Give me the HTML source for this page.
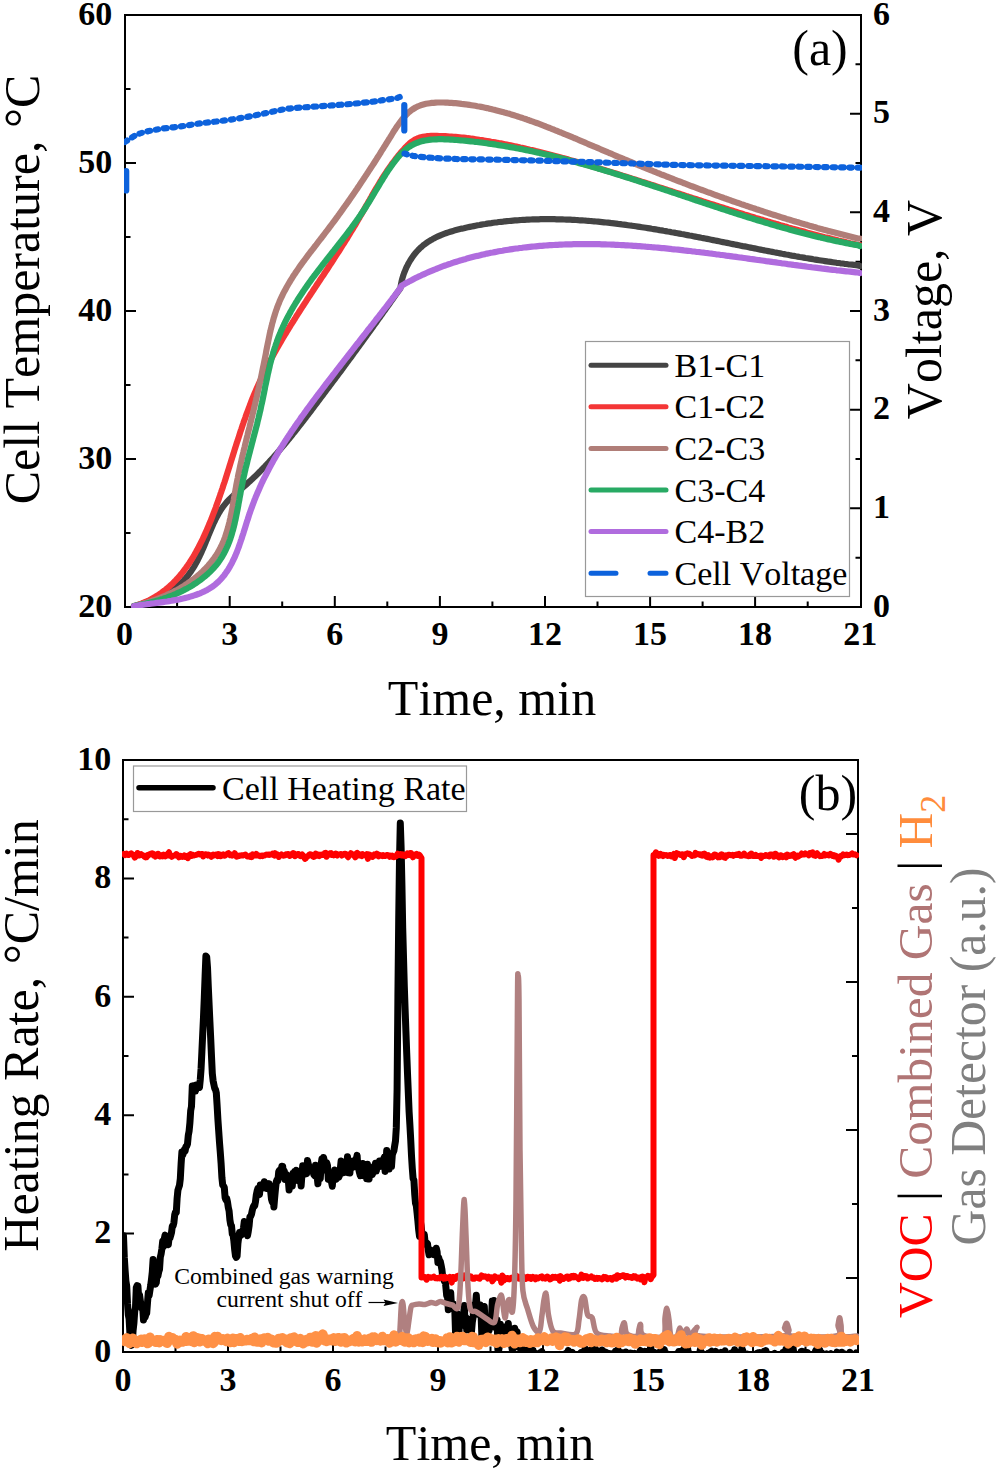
<!DOCTYPE html>
<html><head><meta charset="utf-8"><style>
html,body{margin:0;padding:0;background:#fff;}
svg{display:block;}
</style></head><body>
<svg width="997" height="1470" viewBox="0 0 997 1470">
<rect width="997" height="1470" fill="#fff"/>
<path d="M177.1,607V601.5 M229.7,607V596.0 M282.2,607V601.5 M334.8,607V596.0 M387.3,607V601.5 M439.9,607V596.0 M492.4,607V601.5 M545.0,607V596.0 M597.5,607V601.5 M650.1,607V596.0 M702.6,607V601.5 M755.1,607V596.0 M807.7,607V601.5 M125,533.0H130.5 M125,459.0H136.0 M125,385.0H130.5 M125,311.0H136.0 M125,237.0H130.5 M125,163.0H136.0 M125,89.0H130.5 M861,557.7H855.5 M861,508.3H850.0 M861,459.0H855.5 M861,409.7H850.0 M861,360.3H855.5 M861,311.0H850.0 M861,261.7H855.5 M861,212.3H850.0 M861,163.0H855.5 M861,113.7H850.0 M861,64.3H855.5" stroke="#000" stroke-width="2" fill="none"/>
<rect x="125" y="15" width="736" height="592" fill="none" stroke="#000" stroke-width="2"/>
<defs><clipPath id="ca"><rect x="124" y="14" width="738" height="594"/></clipPath><clipPath id="cb"><rect x="122" y="759" width="737" height="594"/></clipPath></defs>
<g clip-path="url(#ca)">
<g fill="none" stroke-width="6.2" stroke-linecap="round" stroke-linejoin="round">
<path d="M134.0,606.0 L135.9,605.8 L137.7,605.2 L139.6,604.6 L141.4,603.9 L143.3,603.3 L145.2,602.6 L147.1,601.9 L149.0,601.2 L150.9,600.5 L152.8,599.7 L154.7,598.9 L156.6,598.1 L158.4,597.3 L160.3,596.4 L162.1,595.5 L164.0,594.6 L165.8,593.6 L167.6,592.6 L169.3,591.6 L171.0,590.5 L172.7,589.4 L174.4,588.3 L176.0,587.1 L177.6,585.9 L179.1,584.6 L180.6,583.3 L182.1,582.0 L183.5,580.6 L184.8,579.2 L186.1,577.7 L187.4,576.3 L188.6,574.7 L189.7,573.2 L190.9,571.6 L192.0,569.9 L193.0,568.3 L194.1,566.6 L195.1,564.9 L196.0,563.2 L197.0,561.4 L197.9,559.7 L198.8,557.9 L199.7,556.1 L200.5,554.3 L201.4,552.4 L202.2,550.6 L203.0,548.7 L203.8,546.9 L204.6,545.0 L205.4,543.1 L206.1,541.2 L206.9,539.4 L207.7,537.5 L208.4,535.6 L209.2,533.7 L210.0,531.8 L210.8,530.0 L211.6,528.1 L212.4,526.3 L213.2,524.4 L214.0,522.6 L214.9,520.8 L215.7,519.0 L216.6,517.3 L217.6,515.5 L218.5,513.8 L219.5,512.1 L220.5,510.4 L221.6,508.8 L222.7,507.2 L223.9,505.6 L225.1,504.1 L226.3,502.6 L227.6,501.2 L229.0,499.8 L230.3,498.4 L231.8,497.0 L233.2,495.7 L234.7,494.4 L236.2,493.1 L237.7,491.8 L239.2,490.5 L240.8,489.3 L242.3,488.0 L243.8,486.7 L245.3,485.4 L246.8,484.1 L248.2,482.7 L249.7,481.4 L251.2,480.0 L252.6,478.7 L254.1,477.3 L255.5,476.0 L256.9,474.6 L258.3,473.2 L259.7,471.8 L261.1,470.4 L262.5,468.9 L263.9,467.5 L265.3,466.1 L266.6,464.6 L268.0,463.2 L269.3,461.7 L270.7,460.3 L272.0,458.8 L273.4,457.3 L274.7,455.8 L276.0,454.3 L277.3,452.9 L278.6,451.4 L279.9,449.8 L281.2,448.3 L282.5,446.8 L283.8,445.3 L285.0,443.8 L286.3,442.2 L287.6,440.7 L288.8,439.1 L290.1,437.6 L291.4,436.0 L292.6,434.5 L293.8,432.9 L295.1,431.4 L296.3,429.8 L297.6,428.2 L298.8,426.6 L300.0,425.1 L301.3,423.5 L302.5,421.9 L303.7,420.3 L304.9,418.7 L306.1,417.2 L307.3,415.6 L308.6,414.0 L309.8,412.4 L311.0,410.8 L312.2,409.2 L313.4,407.6 L314.6,406.0 L315.8,404.4 L317.0,402.8 L318.2,401.2 L319.4,399.6 L320.6,398.0 L321.8,396.4 L323.0,394.8 L324.2,393.2 L325.4,391.6 L326.6,390.0 L327.8,388.4 L329.0,386.8 L330.2,385.2 L331.4,383.6 L332.6,382.0 L333.8,380.4 L335.0,378.8 L336.2,377.2 L337.4,375.6 L338.6,374.0 L339.8,372.4 L341.0,370.8 L342.2,369.2 L343.4,367.5 L344.5,365.9 L345.7,364.3 L346.9,362.7 L348.1,361.1 L349.3,359.5 L350.5,357.9 L351.7,356.3 L352.8,354.7 L354.0,353.0 L355.2,351.4 L356.4,349.8 L357.5,348.2 L358.7,346.6 L359.9,345.0 L361.1,343.3 L362.3,341.7 L363.4,340.1 L364.6,338.5 L365.8,336.9 L366.9,335.2 L368.1,333.6 L369.3,332.0 L370.4,330.4 L371.6,328.8 L372.8,327.1 L373.9,325.5 L375.1,323.9 L376.3,322.3 L377.4,320.6 L378.6,319.0 L379.8,317.4 L380.9,315.8 L382.1,314.1 L383.2,312.5 L384.4,310.9 L385.6,309.2 L386.7,307.6 L387.9,306.0 L389.0,304.4 L390.2,302.7 L391.3,301.1 L392.5,299.5 L393.6,297.8 L394.8,296.2 L395.9,294.6 L397.1,292.9 L398.2,291.3 L399.4,289.7 L400.5,288.0 L400.7,286.1 L401.0,284.3 L401.4,282.4 L401.8,280.5 L402.3,278.6 L402.9,276.6 L403.5,274.7 L404.2,272.8 L405.0,270.9 L405.8,268.9 L406.6,267.0 L407.6,265.2 L408.5,263.3 L409.6,261.5 L410.7,259.7 L411.8,258.0 L413.0,256.3 L414.2,254.6 L415.5,253.0 L416.8,251.5 L418.2,250.0 L419.6,248.6 L421.0,247.3 L422.5,246.0 L424.0,244.7 L425.6,243.6 L427.2,242.4 L428.8,241.4 L430.5,240.3 L432.2,239.4 L433.9,238.4 L435.6,237.5 L437.4,236.7 L439.2,235.9 L441.0,235.1 L442.8,234.4 L444.7,233.7 L446.5,233.0 L448.4,232.4 L450.3,231.8 L452.2,231.2 L454.2,230.6 L456.1,230.1 L458.0,229.6 L460.0,229.1 L461.9,228.6 L463.9,228.2 L465.8,227.7 L467.8,227.3 L469.8,226.9 L471.7,226.5 L473.7,226.1 L475.6,225.7 L477.6,225.3 L479.6,225.0 L481.5,224.6 L483.5,224.3 L485.4,224.0 L487.4,223.6 L489.4,223.3 L491.3,223.1 L493.3,222.8 L495.3,222.5 L497.2,222.3 L499.2,222.0 L501.2,221.8 L503.1,221.6 L505.1,221.3 L507.1,221.1 L509.1,221.0 L511.0,220.8 L513.0,220.6 L515.0,220.4 L516.9,220.3 L518.9,220.2 L520.9,220.0 L522.9,219.9 L524.8,219.8 L526.8,219.7 L528.8,219.6 L530.8,219.5 L532.7,219.4 L534.7,219.4 L536.7,219.3 L538.7,219.3 L540.6,219.2 L542.6,219.2 L544.6,219.2 L546.6,219.2 L548.6,219.2 L550.5,219.2 L552.5,219.2 L554.5,219.2 L556.5,219.3 L558.5,219.3 L560.4,219.4 L562.4,219.4 L564.4,219.5 L566.4,219.6 L568.4,219.6 L570.3,219.7 L572.3,219.8 L574.3,219.9 L576.3,220.0 L578.3,220.2 L580.2,220.3 L582.2,220.4 L584.2,220.5 L586.2,220.7 L588.2,220.8 L590.2,221.0 L592.2,221.2 L594.1,221.3 L596.1,221.5 L598.1,221.7 L600.1,221.9 L602.1,222.1 L604.1,222.3 L606.0,222.5 L608.0,222.7 L610.0,222.9 L612.0,223.2 L614.0,223.4 L616.0,223.6 L618.0,223.9 L619.9,224.1 L621.9,224.4 L623.9,224.6 L625.9,224.9 L627.9,225.2 L629.9,225.5 L631.8,225.7 L633.8,226.0 L635.8,226.3 L637.8,226.6 L639.8,226.9 L641.8,227.2 L643.8,227.5 L645.7,227.8 L647.7,228.1 L649.7,228.4 L651.7,228.8 L653.7,229.1 L655.7,229.4 L657.7,229.7 L659.6,230.1 L661.6,230.4 L663.6,230.8 L665.6,231.1 L667.6,231.5 L669.6,231.8 L671.5,232.2 L673.5,232.5 L675.5,232.9 L677.5,233.2 L679.5,233.6 L681.5,234.0 L683.4,234.3 L685.4,234.7 L687.4,235.1 L689.4,235.5 L691.4,235.8 L693.3,236.2 L695.3,236.6 L697.3,237.0 L699.3,237.4 L701.3,237.8 L703.2,238.1 L705.2,238.5 L707.2,238.9 L709.2,239.3 L711.2,239.7 L713.1,240.1 L715.1,240.5 L717.1,240.9 L719.1,241.3 L721.0,241.7 L723.0,242.1 L725.0,242.5 L727.0,242.9 L728.9,243.3 L730.9,243.7 L732.9,244.1 L734.9,244.5 L736.8,244.9 L738.8,245.3 L740.8,245.7 L742.7,246.1 L744.7,246.4 L746.7,246.8 L748.7,247.2 L750.6,247.6 L752.6,248.0 L754.6,248.4 L756.5,248.8 L758.5,249.2 L760.5,249.6 L762.4,250.0 L764.4,250.4 L766.4,250.7 L768.3,251.1 L770.3,251.5 L772.3,251.9 L774.2,252.3 L776.2,252.6 L778.1,253.0 L780.1,253.4 L782.1,253.8 L784.0,254.1 L786.0,254.5 L787.9,254.8 L789.9,255.2 L791.8,255.6 L793.8,255.9 L795.8,256.3 L797.7,256.6 L799.7,257.0 L801.6,257.3 L803.6,257.6 L805.5,258.0 L807.5,258.3 L809.4,258.6 L811.4,258.9 L813.3,259.3 L815.3,259.6 L817.2,259.9 L819.2,260.2 L821.1,260.5 L823.1,260.8 L825.0,261.1 L826.9,261.4 L828.9,261.7 L830.8,261.9 L832.8,262.2 L834.7,262.5 L836.6,262.8 L838.6,263.0 L840.5,263.3 L842.4,263.5 L844.4,263.8 L846.3,264.0 L848.2,264.3 L850.2,264.5 L852.1,264.7 L854.0,264.9 L856.0,265.1 L857.9,265.4 L860.0,266.0" stroke="#444444"/>
<path d="M134.0,606.0 L135.7,605.7 L137.8,605.0 L139.8,604.3 L141.7,603.5 L143.7,602.7 L145.6,601.9 L147.4,601.1 L149.3,600.2 L151.1,599.2 L152.8,598.3 L154.6,597.3 L156.3,596.2 L158.0,595.2 L159.6,594.1 L161.2,593.0 L162.8,591.8 L164.4,590.6 L165.9,589.4 L167.4,588.1 L168.9,586.9 L170.3,585.6 L171.8,584.2 L173.2,582.9 L174.5,581.5 L175.9,580.1 L177.2,578.7 L178.5,577.2 L179.8,575.7 L181.0,574.2 L182.3,572.7 L183.5,571.2 L184.6,569.6 L185.8,568.0 L186.9,566.4 L188.1,564.8 L189.2,563.2 L190.3,561.5 L191.3,559.9 L192.4,558.2 L193.4,556.5 L194.4,554.8 L195.4,553.0 L196.4,551.3 L197.3,549.5 L198.3,547.8 L199.2,546.0 L200.1,544.2 L201.0,542.4 L201.9,540.6 L202.8,538.8 L203.6,537.0 L204.5,535.2 L205.3,533.3 L206.1,531.5 L206.9,529.6 L207.7,527.8 L208.5,525.9 L209.3,524.1 L210.0,522.2 L210.8,520.4 L211.6,518.5 L212.3,516.6 L213.0,514.7 L213.7,512.9 L214.5,511.0 L215.2,509.1 L215.9,507.2 L216.5,505.3 L217.2,503.4 L217.9,501.5 L218.6,499.6 L219.2,497.7 L219.9,495.8 L220.5,493.9 L221.2,492.0 L221.8,490.1 L222.5,488.2 L223.1,486.3 L223.7,484.4 L224.4,482.5 L225.0,480.6 L225.6,478.7 L226.2,476.8 L226.8,474.8 L227.4,472.9 L228.0,471.0 L228.6,469.1 L229.2,467.2 L229.8,465.3 L230.4,463.3 L231.0,461.4 L231.6,459.5 L232.2,457.6 L232.8,455.7 L233.4,453.8 L234.0,451.8 L234.6,449.9 L235.2,448.0 L235.8,446.1 L236.4,444.2 L237.0,442.3 L237.7,440.4 L238.3,438.5 L238.9,436.6 L239.5,434.7 L240.1,432.8 L240.7,430.9 L241.4,429.0 L242.0,427.1 L242.6,425.2 L243.3,423.3 L243.9,421.4 L244.6,419.6 L245.3,417.7 L245.9,415.8 L246.6,413.9 L247.3,412.1 L248.0,410.2 L248.7,408.3 L249.4,406.5 L250.1,404.6 L250.8,402.8 L251.5,400.9 L252.2,399.1 L253.0,397.3 L253.7,395.4 L254.5,393.6 L255.3,391.8 L256.1,390.0 L256.8,388.2 L257.7,386.4 L258.5,384.5 L259.3,382.7 L260.1,381.0 L261.0,379.2 L261.8,377.4 L262.7,375.6 L263.5,373.8 L264.4,372.0 L265.3,370.3 L266.2,368.5 L267.1,366.8 L268.0,365.0 L268.9,363.2 L269.8,361.5 L270.7,359.7 L271.7,358.0 L272.6,356.3 L273.6,354.5 L274.5,352.8 L275.5,351.1 L276.5,349.3 L277.4,347.6 L278.4,345.9 L279.4,344.2 L280.4,342.5 L281.4,340.7 L282.4,339.0 L283.4,337.3 L284.4,335.6 L285.5,333.9 L286.5,332.2 L287.5,330.5 L288.6,328.8 L289.6,327.1 L290.6,325.4 L291.7,323.7 L292.8,322.1 L293.8,320.4 L294.9,318.7 L295.9,317.0 L297.0,315.3 L298.1,313.6 L299.1,312.0 L300.2,310.3 L301.3,308.6 L302.4,306.9 L303.5,305.2 L304.6,303.6 L305.7,301.9 L306.7,300.2 L307.8,298.6 L308.9,296.9 L310.0,295.2 L311.1,293.5 L312.2,291.9 L313.3,290.2 L314.4,288.5 L315.5,286.9 L316.6,285.2 L317.7,283.5 L318.8,281.9 L319.9,280.2 L321.0,278.5 L322.2,276.8 L323.3,275.2 L324.4,273.5 L325.5,271.8 L326.6,270.2 L327.7,268.5 L328.8,266.8 L329.9,265.1 L331.0,263.5 L332.1,261.8 L333.2,260.1 L334.2,258.4 L335.3,256.7 L336.4,255.1 L337.5,253.4 L338.6,251.7 L339.7,250.0 L340.8,248.3 L341.8,246.6 L342.9,244.9 L344.0,243.2 L345.0,241.6 L346.1,239.9 L347.2,238.2 L348.2,236.5 L349.3,234.7 L350.3,233.0 L351.3,231.3 L352.4,229.6 L353.4,227.9 L354.4,226.2 L355.5,224.5 L356.5,222.7 L357.5,221.0 L358.5,219.3 L359.5,217.6 L360.5,215.8 L361.5,214.1 L362.5,212.4 L363.5,210.6 L364.5,208.9 L365.4,207.1 L366.4,205.4 L367.4,203.7 L368.4,201.9 L369.4,200.2 L370.4,198.4 L371.4,196.7 L372.3,195.0 L373.3,193.2 L374.3,191.5 L375.3,189.8 L376.3,188.1 L377.4,186.4 L378.4,184.7 L379.4,183.0 L380.4,181.3 L381.5,179.6 L382.5,177.9 L383.6,176.2 L384.7,174.6 L385.8,172.9 L386.8,171.3 L388.0,169.6 L389.1,168.0 L390.2,166.4 L391.4,164.7 L392.5,163.1 L393.7,161.6 L394.9,160.0 L396.1,158.4 L397.3,156.9 L398.6,155.3 L399.9,153.8 L401.1,152.3 L402.4,150.8 L403.8,149.3 L405.1,147.8 L406.5,146.4 L407.9,145.0 L409.3,143.7 L410.8,142.4 L412.4,141.3 L414.0,140.2 L415.6,139.3 L417.4,138.5 L419.2,137.8 L421.0,137.2 L422.9,136.8 L424.9,136.5 L426.8,136.2 L428.9,136.0 L430.9,135.9 L433.0,135.9 L435.0,135.9 L437.1,135.9 L439.2,136.0 L441.3,136.0 L443.3,136.1 L445.4,136.2 L447.4,136.3 L449.5,136.5 L451.5,136.6 L453.5,136.8 L455.6,136.9 L457.6,137.1 L459.6,137.3 L461.6,137.5 L463.6,137.7 L465.6,137.9 L467.6,138.2 L469.5,138.4 L471.5,138.7 L473.5,138.9 L475.5,139.2 L477.4,139.5 L479.4,139.8 L481.4,140.0 L483.3,140.4 L485.3,140.7 L487.2,141.0 L489.2,141.3 L491.1,141.7 L493.1,142.0 L495.0,142.3 L496.9,142.7 L498.9,143.1 L500.8,143.4 L502.8,143.8 L504.7,144.2 L506.7,144.6 L508.6,145.0 L510.5,145.4 L512.5,145.8 L514.4,146.2 L516.4,146.6 L518.3,147.0 L520.2,147.5 L522.2,147.9 L524.1,148.3 L526.1,148.8 L528.0,149.2 L529.9,149.7 L531.9,150.1 L533.8,150.6 L535.8,151.1 L537.7,151.5 L539.6,152.0 L541.6,152.5 L543.5,153.0 L545.5,153.5 L547.4,154.0 L549.3,154.5 L551.3,155.0 L553.2,155.5 L555.1,156.0 L557.1,156.5 L559.0,157.0 L560.9,157.5 L562.9,158.1 L564.8,158.6 L566.7,159.1 L568.6,159.6 L570.6,160.2 L572.5,160.7 L574.4,161.3 L576.4,161.8 L578.3,162.4 L580.2,162.9 L582.1,163.5 L584.1,164.0 L586.0,164.6 L587.9,165.1 L589.8,165.7 L591.8,166.3 L593.7,166.8 L595.6,167.4 L597.5,168.0 L599.4,168.6 L601.4,169.1 L603.3,169.7 L605.2,170.3 L607.1,170.9 L609.0,171.5 L610.9,172.0 L612.9,172.6 L614.8,173.2 L616.7,173.8 L618.6,174.4 L620.5,175.0 L622.4,175.6 L624.3,176.2 L626.2,176.8 L628.1,177.4 L630.1,178.0 L632.0,178.6 L633.9,179.2 L635.8,179.8 L637.7,180.4 L639.6,181.0 L641.5,181.6 L643.4,182.2 L645.3,182.8 L647.2,183.4 L649.1,184.0 L651.0,184.6 L652.9,185.2 L654.8,185.8 L656.7,186.5 L658.6,187.1 L660.5,187.7 L662.4,188.3 L664.3,188.9 L666.2,189.5 L668.1,190.1 L670.0,190.7 L671.9,191.3 L673.8,192.0 L675.7,192.6 L677.6,193.2 L679.5,193.8 L681.4,194.4 L683.3,195.0 L685.2,195.6 L687.1,196.3 L689.0,196.9 L690.9,197.5 L692.8,198.1 L694.7,198.7 L696.6,199.3 L698.5,199.9 L700.4,200.5 L702.3,201.1 L704.2,201.8 L706.1,202.4 L708.0,203.0 L709.9,203.6 L711.9,204.2 L713.8,204.8 L715.7,205.4 L717.6,206.0 L719.5,206.6 L721.4,207.2 L723.3,207.8 L725.2,208.4 L727.1,209.0 L729.0,209.6 L730.9,210.2 L732.8,210.8 L734.7,211.4 L736.6,212.0 L738.5,212.6 L740.4,213.2 L742.3,213.8 L744.2,214.4 L746.1,214.9 L748.0,215.5 L749.9,216.1 L751.8,216.7 L753.7,217.3 L755.6,217.9 L757.6,218.4 L759.5,219.0 L761.4,219.6 L763.3,220.1 L765.2,220.7 L767.1,221.3 L769.0,221.8 L770.9,222.4 L772.9,223.0 L774.8,223.5 L776.7,224.1 L778.6,224.6 L780.5,225.2 L782.4,225.7 L784.4,226.3 L786.3,226.8 L788.2,227.4 L790.1,227.9 L792.0,228.5 L794.0,229.0 L795.9,229.5 L797.8,230.0 L799.7,230.6 L801.7,231.1 L803.6,231.6 L805.5,232.1 L807.4,232.7 L809.4,233.2 L811.3,233.7 L813.2,234.2 L815.2,234.7 L817.1,235.2 L819.0,235.7 L821.0,236.2 L822.9,236.7 L824.8,237.2 L826.8,237.6 L828.7,238.1 L830.7,238.6 L832.6,239.1 L834.6,239.5 L836.5,240.0 L838.4,240.5 L840.4,240.9 L842.3,241.4 L844.3,241.8 L846.2,242.3 L848.2,242.7 L850.1,243.2 L852.1,243.6 L854.1,244.0 L856.0,244.5 L858.0,244.9 L860.0,245.0" stroke="#F43636"/>
<path d="M134.0,606.0 L135.9,605.5 L137.8,605.0 L139.7,604.6 L141.6,604.1 L143.5,603.5 L145.4,603.0 L147.4,602.4 L149.3,601.8 L151.2,601.2 L153.1,600.5 L155.0,599.8 L156.9,599.1 L158.8,598.4 L160.6,597.7 L162.5,596.9 L164.4,596.1 L166.2,595.3 L168.1,594.4 L169.9,593.6 L171.7,592.7 L173.5,591.8 L175.3,590.8 L177.1,589.9 L178.9,588.9 L180.6,587.9 L182.3,586.8 L184.0,585.8 L185.7,584.7 L187.4,583.6 L189.1,582.4 L190.7,581.3 L192.3,580.1 L193.9,578.9 L195.4,577.7 L197.0,576.4 L198.5,575.1 L200.0,573.8 L201.4,572.5 L202.8,571.2 L204.2,569.8 L205.6,568.4 L207.0,567.0 L208.3,565.5 L209.5,564.0 L210.8,562.5 L212.0,561.0 L213.2,559.5 L214.3,557.9 L215.4,556.3 L216.5,554.7 L217.5,553.1 L218.5,551.4 L219.4,549.7 L220.3,548.0 L221.2,546.2 L222.0,544.5 L222.8,542.7 L223.6,540.9 L224.3,539.1 L225.0,537.2 L225.6,535.4 L226.2,533.5 L226.8,531.6 L227.4,529.7 L228.0,527.7 L228.5,525.8 L229.0,523.9 L229.5,521.9 L229.9,519.9 L230.4,517.9 L230.8,516.0 L231.2,514.0 L231.6,512.0 L232.0,509.9 L232.4,507.9 L232.7,505.9 L233.1,503.9 L233.4,501.9 L233.8,499.8 L234.1,497.8 L234.5,495.8 L234.8,493.8 L235.2,491.7 L235.5,489.7 L235.9,487.7 L236.2,485.7 L236.6,483.7 L237.0,481.7 L237.4,479.7 L237.8,477.8 L238.1,475.8 L238.5,473.8 L239.0,471.9 L239.4,469.9 L239.8,467.9 L240.2,466.0 L240.6,464.0 L241.1,462.1 L241.5,460.2 L241.9,458.2 L242.4,456.3 L242.8,454.4 L243.3,452.4 L243.7,450.5 L244.2,448.6 L244.7,446.7 L245.1,444.8 L245.6,442.8 L246.1,440.9 L246.5,439.0 L247.0,437.1 L247.5,435.2 L247.9,433.3 L248.4,431.4 L248.9,429.4 L249.4,427.5 L249.8,425.6 L250.3,423.7 L250.8,421.8 L251.2,419.9 L251.7,417.9 L252.2,416.0 L252.6,414.1 L253.1,412.2 L253.6,410.2 L254.0,408.3 L254.5,406.4 L255.0,404.4 L255.4,402.5 L255.9,400.5 L256.3,398.6 L256.8,396.7 L257.2,394.7 L257.6,392.8 L258.1,390.8 L258.5,388.9 L259.0,386.9 L259.4,384.9 L259.8,383.0 L260.3,381.0 L260.7,379.1 L261.1,377.1 L261.5,375.1 L261.9,373.2 L262.3,371.2 L262.7,369.2 L263.1,367.2 L263.5,365.3 L263.9,363.3 L264.3,361.3 L264.7,359.3 L265.1,357.3 L265.5,355.4 L265.9,353.4 L266.2,351.4 L266.6,349.4 L267.0,347.4 L267.4,345.4 L267.8,343.5 L268.2,341.5 L268.6,339.5 L269.0,337.5 L269.4,335.6 L269.8,333.6 L270.3,331.6 L270.7,329.7 L271.2,327.7 L271.7,325.8 L272.1,323.9 L272.7,321.9 L273.2,320.0 L273.7,318.1 L274.3,316.2 L274.9,314.3 L275.5,312.4 L276.1,310.5 L276.8,308.7 L277.4,306.8 L278.1,305.0 L278.9,303.2 L279.6,301.3 L280.4,299.5 L281.2,297.7 L282.1,296.0 L282.9,294.2 L283.8,292.4 L284.7,290.7 L285.7,288.9 L286.6,287.2 L287.6,285.5 L288.6,283.8 L289.6,282.1 L290.6,280.4 L291.7,278.7 L292.7,277.0 L293.8,275.3 L294.9,273.7 L296.0,272.0 L297.1,270.4 L298.3,268.7 L299.4,267.1 L300.6,265.4 L301.7,263.8 L302.9,262.2 L304.1,260.6 L305.3,259.0 L306.5,257.4 L307.7,255.7 L308.9,254.1 L310.1,252.5 L311.3,251.0 L312.6,249.4 L313.8,247.8 L315.0,246.2 L316.3,244.6 L317.5,243.0 L318.7,241.4 L319.9,239.9 L321.2,238.3 L322.4,236.7 L323.6,235.1 L324.8,233.5 L326.0,231.9 L327.2,230.4 L328.4,228.8 L329.6,227.2 L330.8,225.6 L332.0,224.0 L333.2,222.4 L334.4,220.8 L335.5,219.3 L336.7,217.7 L337.9,216.1 L339.0,214.5 L340.2,212.9 L341.3,211.3 L342.5,209.7 L343.6,208.1 L344.7,206.5 L345.9,204.9 L347.0,203.3 L348.2,201.7 L349.3,200.0 L350.4,198.4 L351.5,196.8 L352.7,195.2 L353.8,193.6 L354.9,191.9 L356.0,190.3 L357.1,188.7 L358.2,187.0 L359.3,185.4 L360.4,183.7 L361.5,182.1 L362.6,180.4 L363.7,178.8 L364.8,177.1 L365.9,175.4 L367.0,173.8 L368.1,172.1 L369.2,170.4 L370.3,168.7 L371.4,167.1 L372.5,165.4 L373.6,163.7 L374.7,162.0 L375.8,160.3 L376.9,158.5 L378.0,156.8 L379.1,155.1 L380.2,153.4 L381.2,151.6 L382.3,149.9 L383.4,148.2 L384.5,146.4 L385.6,144.7 L386.7,142.9 L387.8,141.1 L388.9,139.3 L390.0,137.6 L391.1,135.8 L392.2,134.0 L393.3,132.2 L394.4,130.4 L395.6,128.7 L396.7,126.9 L397.9,125.2 L399.1,123.5 L400.3,121.9 L401.5,120.3 L402.7,118.7 L404.0,117.2 L405.3,115.7 L406.7,114.3 L408.0,113.0 L409.5,111.7 L410.9,110.6 L412.4,109.5 L414.0,108.5 L415.6,107.5 L417.2,106.7 L418.9,106.0 L420.6,105.3 L422.4,104.8 L424.2,104.3 L426.0,103.8 L427.9,103.5 L429.8,103.2 L431.7,102.9 L433.6,102.8 L435.6,102.6 L437.6,102.5 L439.5,102.5 L441.5,102.5 L443.5,102.5 L445.5,102.6 L447.6,102.7 L449.6,102.8 L451.6,102.9 L453.6,103.1 L455.6,103.2 L457.6,103.4 L459.6,103.6 L461.5,103.9 L463.5,104.1 L465.5,104.3 L467.5,104.6 L469.5,104.9 L471.4,105.2 L473.4,105.5 L475.3,105.8 L477.3,106.2 L479.3,106.5 L481.2,106.9 L483.2,107.3 L485.1,107.7 L487.1,108.1 L489.0,108.6 L490.9,109.0 L492.9,109.5 L494.8,109.9 L496.7,110.4 L498.7,110.9 L500.6,111.4 L502.5,111.9 L504.4,112.5 L506.3,113.0 L508.3,113.6 L510.2,114.1 L512.1,114.7 L514.0,115.3 L515.9,115.9 L517.8,116.5 L519.7,117.1 L521.6,117.7 L523.5,118.4 L525.4,119.0 L527.3,119.7 L529.1,120.3 L531.0,121.0 L532.9,121.6 L534.8,122.3 L536.7,123.0 L538.6,123.7 L540.4,124.4 L542.3,125.1 L544.2,125.8 L546.1,126.6 L547.9,127.3 L549.8,128.0 L551.7,128.8 L553.6,129.5 L555.4,130.3 L557.3,131.0 L559.1,131.8 L561.0,132.5 L562.9,133.3 L564.7,134.1 L566.6,134.8 L568.5,135.6 L570.3,136.4 L572.2,137.2 L574.0,138.0 L575.9,138.7 L577.7,139.5 L579.6,140.3 L581.4,141.1 L583.3,141.9 L585.1,142.7 L587.0,143.5 L588.8,144.3 L590.7,145.1 L592.6,145.9 L594.4,146.7 L596.3,147.4 L598.1,148.2 L600.0,149.0 L601.8,149.8 L603.7,150.6 L605.5,151.4 L607.4,152.2 L609.2,153.0 L611.1,153.7 L612.9,154.5 L614.8,155.3 L616.6,156.1 L618.4,156.9 L620.3,157.6 L622.1,158.4 L624.0,159.2 L625.8,159.9 L627.7,160.7 L629.5,161.5 L631.4,162.2 L633.3,163.0 L635.1,163.8 L637.0,164.5 L638.8,165.3 L640.7,166.0 L642.5,166.8 L644.4,167.6 L646.2,168.3 L648.1,169.1 L649.9,169.8 L651.8,170.5 L653.6,171.3 L655.5,172.0 L657.3,172.8 L659.2,173.5 L661.0,174.3 L662.9,175.0 L664.7,175.7 L666.6,176.5 L668.4,177.2 L670.3,177.9 L672.2,178.6 L674.0,179.4 L675.9,180.1 L677.7,180.8 L679.6,181.5 L681.4,182.2 L683.3,183.0 L685.2,183.7 L687.0,184.4 L688.9,185.1 L690.7,185.8 L692.6,186.5 L694.5,187.2 L696.3,187.9 L698.2,188.6 L700.1,189.3 L701.9,190.0 L703.8,190.7 L705.7,191.4 L707.5,192.1 L709.4,192.7 L711.3,193.4 L713.1,194.1 L715.0,194.8 L716.9,195.5 L718.7,196.1 L720.6,196.8 L722.5,197.5 L724.3,198.2 L726.2,198.8 L728.1,199.5 L730.0,200.1 L731.8,200.8 L733.7,201.5 L735.6,202.1 L737.5,202.8 L739.3,203.4 L741.2,204.1 L743.1,204.7 L745.0,205.4 L746.9,206.0 L748.8,206.6 L750.6,207.3 L752.5,207.9 L754.4,208.5 L756.3,209.2 L758.2,209.8 L760.1,210.4 L762.0,211.0 L763.8,211.6 L765.7,212.3 L767.6,212.9 L769.5,213.5 L771.4,214.1 L773.3,214.7 L775.2,215.3 L777.1,215.9 L779.0,216.5 L780.9,217.1 L782.8,217.7 L784.7,218.3 L786.6,218.9 L788.5,219.4 L790.4,220.0 L792.3,220.6 L794.2,221.2 L796.2,221.8 L798.1,222.3 L800.0,222.9 L801.9,223.5 L803.8,224.0 L805.7,224.6 L807.6,225.1 L809.6,225.7 L811.5,226.2 L813.4,226.8 L815.3,227.3 L817.2,227.9 L819.2,228.4 L821.1,228.9 L823.0,229.5 L825.0,230.0 L826.9,230.5 L828.8,231.1 L830.7,231.6 L832.7,232.1 L834.6,232.6 L836.6,233.1 L838.5,233.6 L840.4,234.1 L842.4,234.6 L844.3,235.1 L846.3,235.6 L848.2,236.1 L850.2,236.6 L852.1,237.1 L854.1,237.6 L856.0,238.1 L858.0,238.6 L860.0,238.5" stroke="#B07E78"/>
<path d="M134.0,606.0 L136.0,605.5 L137.9,605.2 L139.8,604.8 L141.7,604.5 L143.6,604.1 L145.5,603.7 L147.4,603.2 L149.3,602.8 L151.3,602.3 L153.2,601.8 L155.1,601.3 L157.1,600.7 L159.0,600.1 L160.9,599.5 L162.9,598.9 L164.8,598.2 L166.7,597.6 L168.6,596.8 L170.6,596.1 L172.5,595.4 L174.4,594.6 L176.2,593.8 L178.1,592.9 L180.0,592.1 L181.8,591.2 L183.6,590.3 L185.4,589.3 L187.2,588.4 L189.0,587.4 L190.8,586.3 L192.5,585.3 L194.2,584.2 L195.9,583.1 L197.5,582.0 L199.2,580.8 L200.8,579.7 L202.4,578.4 L203.9,577.2 L205.4,576.0 L206.9,574.7 L208.4,573.3 L209.8,572.0 L211.2,570.6 L212.5,569.2 L213.9,567.8 L215.1,566.3 L216.4,564.9 L217.6,563.3 L218.7,561.8 L219.8,560.2 L220.9,558.6 L221.9,557.0 L222.9,555.4 L223.8,553.7 L224.7,552.0 L225.6,550.3 L226.4,548.5 L227.2,546.7 L228.0,544.9 L228.7,543.1 L229.4,541.3 L230.1,539.5 L230.7,537.6 L231.3,535.7 L231.9,533.8 L232.4,531.9 L233.0,530.0 L233.5,528.0 L234.0,526.1 L234.5,524.1 L234.9,522.1 L235.4,520.1 L235.8,518.1 L236.2,516.1 L236.6,514.1 L237.0,512.1 L237.4,510.1 L237.8,508.1 L238.2,506.0 L238.5,504.0 L238.9,502.0 L239.3,500.0 L239.6,497.9 L240.0,495.9 L240.4,493.9 L240.7,491.8 L241.1,489.8 L241.5,487.8 L241.9,485.8 L242.3,483.8 L242.7,481.8 L243.1,479.8 L243.5,477.8 L243.9,475.9 L244.4,473.9 L244.8,471.9 L245.3,470.0 L245.7,468.0 L246.2,466.1 L246.7,464.2 L247.2,462.2 L247.6,460.3 L248.1,458.4 L248.6,456.4 L249.1,454.5 L249.6,452.6 L250.1,450.7 L250.6,448.8 L251.1,446.9 L251.6,444.9 L252.1,443.0 L252.6,441.1 L253.1,439.2 L253.6,437.3 L254.1,435.4 L254.6,433.5 L255.1,431.6 L255.6,429.7 L256.1,427.8 L256.6,425.9 L257.1,424.0 L257.5,422.1 L258.0,420.1 L258.5,418.2 L258.9,416.3 L259.4,414.4 L259.8,412.4 L260.3,410.5 L260.7,408.6 L261.1,406.6 L261.5,404.7 L262.0,402.7 L262.4,400.8 L262.8,398.8 L263.2,396.9 L263.6,394.9 L264.0,393.0 L264.4,391.0 L264.8,389.1 L265.1,387.1 L265.5,385.1 L266.0,383.2 L266.4,381.2 L266.8,379.3 L267.2,377.3 L267.6,375.3 L268.0,373.4 L268.5,371.4 L268.9,369.5 L269.4,367.5 L269.8,365.6 L270.3,363.6 L270.8,361.7 L271.3,359.7 L271.8,357.8 L272.4,355.9 L272.9,354.0 L273.5,352.0 L274.0,350.1 L274.6,348.2 L275.3,346.3 L275.9,344.4 L276.6,342.5 L277.2,340.6 L277.9,338.8 L278.6,336.9 L279.4,335.0 L280.2,333.2 L280.9,331.3 L281.7,329.5 L282.6,327.6 L283.4,325.8 L284.3,324.0 L285.1,322.2 L286.0,320.4 L286.9,318.6 L287.9,316.8 L288.8,315.0 L289.8,313.3 L290.7,311.5 L291.7,309.8 L292.7,308.0 L293.7,306.3 L294.8,304.5 L295.8,302.8 L296.9,301.1 L297.9,299.4 L299.0,297.7 L300.1,296.1 L301.2,294.4 L302.3,292.7 L303.4,291.1 L304.5,289.4 L305.6,287.8 L306.8,286.2 L307.9,284.5 L309.0,282.9 L310.2,281.3 L311.4,279.7 L312.5,278.1 L313.7,276.5 L314.9,275.0 L316.1,273.4 L317.3,271.8 L318.5,270.2 L319.7,268.7 L320.9,267.1 L322.1,265.5 L323.3,264.0 L324.5,262.4 L325.7,260.9 L326.9,259.3 L328.2,257.8 L329.4,256.2 L330.6,254.7 L331.8,253.1 L333.1,251.6 L334.3,250.0 L335.5,248.5 L336.7,246.9 L338.0,245.3 L339.2,243.8 L340.4,242.2 L341.6,240.7 L342.8,239.1 L344.0,237.5 L345.3,236.0 L346.5,234.4 L347.7,232.8 L348.9,231.2 L350.1,229.6 L351.3,228.0 L352.4,226.4 L353.6,224.8 L354.8,223.2 L356.0,221.6 L357.1,219.9 L358.3,218.3 L359.4,216.6 L360.6,215.0 L361.7,213.3 L362.8,211.6 L364.0,209.9 L365.1,208.2 L366.2,206.5 L367.2,204.8 L368.3,203.1 L369.4,201.3 L370.5,199.6 L371.5,197.8 L372.6,196.1 L373.6,194.3 L374.7,192.5 L375.7,190.8 L376.8,189.0 L377.8,187.2 L378.9,185.5 L379.9,183.7 L381.0,181.9 L382.1,180.2 L383.1,178.4 L384.2,176.7 L385.3,175.0 L386.4,173.2 L387.5,171.5 L388.7,169.8 L389.8,168.2 L391.0,166.5 L392.1,164.9 L393.3,163.2 L394.6,161.6 L395.8,160.0 L397.0,158.5 L398.3,156.9 L399.6,155.4 L401.0,154.0 L402.3,152.6 L403.7,151.2 L405.1,149.9 L406.6,148.7 L408.1,147.6 L409.6,146.5 L411.2,145.5 L412.8,144.7 L414.5,143.8 L416.2,143.1 L417.9,142.5 L419.6,141.9 L421.4,141.3 L423.2,140.9 L425.0,140.5 L426.9,140.2 L428.8,139.9 L430.7,139.7 L432.6,139.5 L434.6,139.4 L436.5,139.3 L438.5,139.2 L440.5,139.2 L442.5,139.2 L444.5,139.3 L446.5,139.3 L448.5,139.4 L450.5,139.6 L452.5,139.7 L454.6,139.8 L456.6,140.0 L458.6,140.2 L460.6,140.3 L462.6,140.5 L464.7,140.7 L466.7,140.9 L468.7,141.1 L470.7,141.3 L472.7,141.5 L474.7,141.8 L476.7,142.0 L478.7,142.2 L480.7,142.5 L482.7,142.7 L484.7,143.0 L486.7,143.3 L488.7,143.6 L490.7,143.8 L492.6,144.1 L494.6,144.4 L496.6,144.7 L498.6,145.1 L500.6,145.4 L502.6,145.7 L504.5,146.0 L506.5,146.4 L508.5,146.7 L510.4,147.1 L512.4,147.4 L514.4,147.8 L516.4,148.2 L518.3,148.5 L520.3,148.9 L522.2,149.3 L524.2,149.7 L526.2,150.1 L528.1,150.5 L530.1,150.9 L532.0,151.3 L534.0,151.8 L535.9,152.2 L537.9,152.6 L539.8,153.1 L541.8,153.5 L543.7,154.0 L545.7,154.4 L547.6,154.9 L549.5,155.3 L551.5,155.8 L553.4,156.3 L555.4,156.8 L557.3,157.2 L559.2,157.7 L561.2,158.2 L563.1,158.7 L565.0,159.2 L567.0,159.7 L568.9,160.2 L570.8,160.8 L572.7,161.3 L574.7,161.8 L576.6,162.3 L578.5,162.9 L580.4,163.4 L582.4,163.9 L584.3,164.5 L586.2,165.0 L588.1,165.6 L590.0,166.1 L592.0,166.7 L593.9,167.2 L595.8,167.8 L597.7,168.4 L599.6,168.9 L601.5,169.5 L603.4,170.1 L605.4,170.7 L607.3,171.2 L609.2,171.8 L611.1,172.4 L613.0,173.0 L614.9,173.6 L616.8,174.2 L618.7,174.8 L620.6,175.4 L622.5,176.0 L624.4,176.6 L626.3,177.2 L628.2,177.8 L630.1,178.4 L632.0,179.0 L633.9,179.6 L635.8,180.2 L637.7,180.9 L639.6,181.5 L641.5,182.1 L643.4,182.7 L645.3,183.3 L647.2,184.0 L649.1,184.6 L651.0,185.2 L652.9,185.8 L654.8,186.5 L656.7,187.1 L658.6,187.7 L660.5,188.4 L662.4,189.0 L664.3,189.6 L666.2,190.3 L668.1,190.9 L670.0,191.5 L671.9,192.2 L673.8,192.8 L675.7,193.4 L677.6,194.1 L679.5,194.7 L681.4,195.4 L683.3,196.0 L685.2,196.6 L687.1,197.3 L689.0,197.9 L690.9,198.5 L692.8,199.2 L694.6,199.8 L696.5,200.5 L698.4,201.1 L700.3,201.7 L702.2,202.4 L704.1,203.0 L706.0,203.6 L707.9,204.3 L709.8,204.9 L711.7,205.5 L713.6,206.1 L715.5,206.8 L717.4,207.4 L719.3,208.0 L721.2,208.7 L723.1,209.3 L725.0,209.9 L726.9,210.5 L728.8,211.1 L730.7,211.8 L732.6,212.4 L734.5,213.0 L736.4,213.6 L738.3,214.2 L740.2,214.8 L742.1,215.4 L744.0,216.0 L745.9,216.6 L747.8,217.2 L749.7,217.8 L751.7,218.4 L753.6,219.0 L755.5,219.6 L757.4,220.2 L759.3,220.8 L761.2,221.3 L763.1,221.9 L765.0,222.5 L766.9,223.1 L768.9,223.6 L770.8,224.2 L772.7,224.8 L774.6,225.3 L776.5,225.9 L778.4,226.4 L780.4,227.0 L782.3,227.5 L784.2,228.1 L786.1,228.6 L788.0,229.1 L790.0,229.7 L791.9,230.2 L793.8,230.7 L795.7,231.2 L797.7,231.8 L799.6,232.3 L801.5,232.8 L803.5,233.3 L805.4,233.8 L807.3,234.3 L809.3,234.8 L811.2,235.2 L813.1,235.7 L815.1,236.2 L817.0,236.7 L819.0,237.1 L820.9,237.6 L822.9,238.0 L824.8,238.5 L826.7,238.9 L828.7,239.4 L830.6,239.8 L832.6,240.2 L834.5,240.7 L836.5,241.1 L838.5,241.5 L840.4,241.9 L842.4,242.3 L844.3,242.7 L846.3,243.1 L848.3,243.5 L850.2,243.9 L852.2,244.2 L854.2,244.6 L856.1,244.9 L858.1,245.3 L860.0,246.0" stroke="#28AA64"/>
<path d="M134.0,606.0 L136.2,605.7 L137.8,605.5 L139.5,605.2 L141.3,605.0 L143.1,604.7 L145.0,604.5 L146.8,604.2 L148.8,604.0 L150.7,603.7 L152.7,603.5 L154.7,603.2 L156.7,602.9 L158.8,602.7 L160.9,602.4 L162.9,602.1 L165.0,601.8 L167.2,601.5 L169.3,601.1 L171.4,600.8 L173.5,600.4 L175.6,600.0 L177.8,599.6 L179.9,599.2 L182.0,598.7 L184.1,598.3 L186.1,597.7 L188.2,597.2 L190.2,596.6 L192.3,596.0 L194.2,595.4 L196.2,594.7 L198.1,594.0 L200.0,593.3 L201.9,592.5 L203.7,591.7 L205.5,590.8 L207.2,589.9 L208.9,588.9 L210.5,587.9 L212.1,586.9 L213.6,585.8 L215.1,584.6 L216.5,583.4 L217.9,582.2 L219.2,580.9 L220.5,579.6 L221.7,578.2 L222.9,576.8 L224.1,575.4 L225.2,573.9 L226.2,572.4 L227.3,570.9 L228.3,569.3 L229.3,567.7 L230.2,566.1 L231.1,564.4 L232.0,562.8 L232.8,561.0 L233.7,559.3 L234.5,557.6 L235.3,555.8 L236.0,554.0 L236.8,552.2 L237.5,550.3 L238.2,548.5 L238.9,546.6 L239.5,544.7 L240.2,542.8 L240.8,540.9 L241.5,539.0 L242.1,537.0 L242.7,535.1 L243.4,533.2 L244.0,531.2 L244.6,529.3 L245.2,527.3 L245.8,525.3 L246.4,523.4 L247.0,521.4 L247.7,519.5 L248.3,517.5 L248.9,515.6 L249.6,513.6 L250.2,511.7 L250.9,509.8 L251.6,507.9 L252.3,505.9 L253.0,504.1 L253.7,502.2 L254.4,500.3 L255.2,498.4 L255.9,496.5 L256.7,494.7 L257.5,492.8 L258.3,491.0 L259.1,489.2 L259.9,487.3 L260.7,485.5 L261.5,483.7 L262.4,481.9 L263.2,480.1 L264.1,478.3 L265.0,476.6 L265.9,474.8 L266.8,473.0 L267.7,471.3 L268.6,469.5 L269.5,467.8 L270.5,466.0 L271.4,464.3 L272.4,462.6 L273.3,460.9 L274.3,459.1 L275.3,457.4 L276.3,455.7 L277.3,454.0 L278.3,452.3 L279.3,450.6 L280.3,449.0 L281.3,447.3 L282.4,445.6 L283.4,443.9 L284.5,442.3 L285.5,440.6 L286.6,439.0 L287.7,437.3 L288.8,435.6 L289.9,434.0 L290.9,432.4 L292.0,430.7 L293.2,429.1 L294.3,427.5 L295.4,425.8 L296.5,424.2 L297.6,422.6 L298.8,421.0 L299.9,419.4 L301.0,417.7 L302.2,416.1 L303.4,414.5 L304.5,412.9 L305.7,411.3 L306.8,409.7 L308.0,408.1 L309.2,406.5 L310.4,404.9 L311.5,403.3 L312.7,401.7 L313.9,400.1 L315.1,398.5 L316.3,396.9 L317.5,395.3 L318.7,393.8 L319.9,392.2 L321.1,390.6 L322.3,389.0 L323.5,387.4 L324.7,385.8 L325.9,384.2 L327.1,382.6 L328.4,381.0 L329.6,379.5 L330.8,377.9 L332.0,376.3 L333.2,374.7 L334.5,373.1 L335.7,371.5 L336.9,369.9 L338.1,368.4 L339.4,366.8 L340.6,365.2 L341.8,363.6 L343.1,362.0 L344.3,360.4 L345.5,358.9 L346.8,357.3 L348.0,355.7 L349.2,354.1 L350.5,352.5 L351.7,351.0 L352.9,349.4 L354.2,347.8 L355.4,346.2 L356.6,344.6 L357.9,343.1 L359.1,341.5 L360.3,339.9 L361.6,338.3 L362.8,336.8 L364.0,335.2 L365.3,333.6 L366.5,332.0 L367.7,330.4 L369.0,328.9 L370.2,327.3 L371.4,325.7 L372.7,324.2 L373.9,322.6 L375.1,321.0 L376.3,319.4 L377.6,317.9 L378.8,316.3 L380.0,314.7 L381.2,313.2 L382.4,311.6 L383.6,310.0 L384.9,308.4 L386.1,306.9 L387.3,305.3 L388.5,303.7 L389.7,302.2 L390.9,300.6 L392.1,299.0 L393.3,297.5 L394.5,295.9 L395.7,294.3 L396.9,292.8 L398.1,291.2 L399.2,289.7 L400.5,288.0 L401.3,285.9 L403.1,284.8 L404.8,283.8 L406.6,282.8 L408.4,281.9 L410.2,280.9 L412.0,280.0 L413.8,279.0 L415.6,278.1 L417.4,277.2 L419.2,276.3 L421.1,275.5 L422.9,274.6 L424.7,273.8 L426.5,273.0 L428.4,272.2 L430.2,271.4 L432.1,270.6 L433.9,269.8 L435.8,269.1 L437.6,268.3 L439.5,267.6 L441.3,266.9 L443.2,266.2 L445.1,265.5 L447.0,264.9 L448.8,264.2 L450.7,263.6 L452.6,262.9 L454.5,262.3 L456.4,261.7 L458.3,261.1 L460.2,260.5 L462.1,260.0 L464.0,259.4 L465.9,258.9 L467.8,258.3 L469.7,257.8 L471.6,257.3 L473.5,256.8 L475.4,256.3 L477.4,255.9 L479.3,255.4 L481.2,254.9 L483.1,254.5 L485.1,254.1 L487.0,253.6 L488.9,253.2 L490.9,252.8 L492.8,252.5 L494.8,252.1 L496.7,251.7 L498.6,251.3 L500.6,251.0 L502.5,250.7 L504.5,250.3 L506.4,250.0 L508.4,249.7 L510.3,249.4 L512.3,249.1 L514.2,248.8 L516.2,248.5 L518.2,248.3 L520.1,248.0 L522.1,247.8 L524.1,247.5 L526.0,247.3 L528.0,247.1 L530.0,246.9 L531.9,246.7 L533.9,246.5 L535.9,246.3 L537.8,246.1 L539.8,245.9 L541.8,245.8 L543.8,245.6 L545.7,245.5 L547.7,245.3 L549.7,245.2 L551.7,245.1 L553.7,245.0 L555.7,244.9 L557.6,244.8 L559.6,244.7 L561.6,244.6 L563.6,244.5 L565.6,244.4 L567.6,244.4 L569.6,244.3 L571.6,244.3 L573.5,244.2 L575.5,244.2 L577.5,244.1 L579.5,244.1 L581.5,244.1 L583.5,244.1 L585.5,244.1 L587.5,244.1 L589.5,244.1 L591.5,244.1 L593.5,244.1 L595.5,244.2 L597.5,244.2 L599.5,244.2 L601.5,244.3 L603.5,244.3 L605.5,244.4 L607.5,244.5 L609.6,244.5 L611.6,244.6 L613.6,244.7 L615.6,244.8 L617.6,244.9 L619.6,245.0 L621.6,245.1 L623.6,245.2 L625.6,245.3 L627.6,245.4 L629.6,245.5 L631.6,245.6 L633.7,245.8 L635.7,245.9 L637.7,246.1 L639.7,246.2 L641.7,246.3 L643.7,246.5 L645.7,246.7 L647.7,246.8 L649.7,247.0 L651.8,247.2 L653.8,247.3 L655.8,247.5 L657.8,247.7 L659.8,247.9 L661.8,248.1 L663.8,248.2 L665.8,248.4 L667.9,248.6 L669.9,248.8 L671.9,249.1 L673.9,249.3 L675.9,249.5 L677.9,249.7 L679.9,249.9 L681.9,250.1 L684.0,250.4 L686.0,250.6 L688.0,250.8 L690.0,251.0 L692.0,251.3 L694.0,251.5 L696.0,251.8 L698.0,252.0 L700.0,252.2 L702.0,252.5 L704.1,252.7 L706.1,253.0 L708.1,253.2 L710.1,253.5 L712.1,253.7 L714.1,254.0 L716.1,254.3 L718.1,254.5 L720.1,254.8 L722.1,255.0 L724.1,255.3 L726.1,255.6 L728.1,255.8 L730.1,256.1 L732.1,256.4 L734.1,256.7 L736.1,256.9 L738.1,257.2 L740.1,257.5 L742.1,257.7 L744.1,258.0 L746.1,258.3 L748.1,258.6 L750.1,258.9 L752.1,259.1 L754.1,259.4 L756.1,259.7 L758.0,260.0 L760.0,260.2 L762.0,260.5 L764.0,260.8 L766.0,261.1 L768.0,261.3 L770.0,261.6 L771.9,261.9 L773.9,262.2 L775.9,262.4 L777.9,262.7 L779.9,263.0 L781.8,263.3 L783.8,263.5 L785.8,263.8 L787.8,264.1 L789.7,264.3 L791.7,264.6 L793.7,264.9 L795.6,265.1 L797.6,265.4 L799.6,265.7 L801.5,265.9 L803.5,266.2 L805.4,266.4 L807.4,266.7 L809.4,267.0 L811.3,267.2 L813.3,267.5 L815.2,267.7 L817.2,267.9 L819.1,268.2 L821.1,268.4 L823.0,268.7 L825.0,268.9 L826.9,269.1 L828.9,269.4 L830.8,269.6 L832.7,269.8 L834.7,270.0 L836.6,270.3 L838.5,270.5 L840.5,270.7 L842.4,270.9 L844.3,271.1 L846.2,271.3 L848.2,271.5 L850.1,271.7 L852.0,271.9 L853.9,272.1 L855.8,272.3 L857.8,272.5 L860.0,273.0" stroke="#B06CDE"/>
</g>
<g fill="none" stroke="#0D62DC" stroke-width="6.2" stroke-linecap="round" stroke-linejoin="round">
<path d="M125.0,142.0 C126.7,140.9 131.7,137.3 135.0,135.6 C138.3,133.9 140.8,133.1 145.0,132.0 C149.2,130.9 154.2,129.9 160.0,129.0 C165.8,128.1 173.3,127.4 180.0,126.5 C186.7,125.6 193.0,124.4 200.0,123.4 C207.0,122.5 214.7,121.8 222.0,120.8 C229.3,119.8 236.7,118.8 244.0,117.5 C251.3,116.2 258.7,114.6 266.0,113.1 C273.3,111.6 280.7,109.7 288.0,108.7 C295.3,107.7 302.7,107.5 310.0,106.9 C317.3,106.4 324.6,106.0 332.0,105.4 C339.4,104.9 347.8,104.2 354.5,103.6 C361.2,103.0 367.1,102.4 372.0,101.8 C376.9,101.2 380.0,100.6 384.0,100.0 C388.0,99.4 393.3,98.8 396.1,98.2 C398.9,97.6 400.0,96.9 400.9,96.4 C401.8,95.9 401.4,95.4 401.5,95.2" stroke-dasharray="2.6 5.8"/>
<path d="M404.5,153.6 C406.1,154.0 409.6,155.3 414.2,156.0 C418.8,156.7 425.2,157.3 432.2,157.8 C439.2,158.3 448.3,158.7 456.3,159.0 C464.3,159.3 469.4,159.2 480.0,159.4 C490.6,159.6 506.6,159.9 520.0,160.2 C533.4,160.5 539.8,160.6 560.2,161.2 C580.6,161.8 622.4,163.2 642.4,163.8 C662.4,164.4 662.1,164.6 680.0,165.0 C697.9,165.4 720.0,165.6 750.0,166.0 C780.0,166.4 841.7,167.4 860.0,167.7" stroke-dasharray="2.6 5.8"/>
<path d="M126.2,171V190.5 M404.3,105V130.5"/>
</g>
</g>
<rect x="585.5" y="341.5" width="264" height="255" fill="#fff" stroke="#999" stroke-width="1.2"/>
<path d="M591,365.2H666" stroke="#444444" stroke-width="5" stroke-linecap="round"/>
<text x="674.5" y="376.7" style="font-family:'Liberation Serif',serif;font-kerning:none;font-size:34px">B1-C1</text>
<path d="M591,406.8H666" stroke="#F43636" stroke-width="5" stroke-linecap="round"/>
<text x="674.5" y="418.3" style="font-family:'Liberation Serif',serif;font-kerning:none;font-size:34px">C1-C2</text>
<path d="M591,448.4H666" stroke="#B07E78" stroke-width="5" stroke-linecap="round"/>
<text x="674.5" y="459.9" style="font-family:'Liberation Serif',serif;font-kerning:none;font-size:34px">C2-C3</text>
<path d="M591,490.0H666" stroke="#28AA64" stroke-width="5" stroke-linecap="round"/>
<text x="674.5" y="501.5" style="font-family:'Liberation Serif',serif;font-kerning:none;font-size:34px">C3-C4</text>
<path d="M591,531.6H666" stroke="#B06CDE" stroke-width="5" stroke-linecap="round"/>
<text x="674.5" y="543.1" style="font-family:'Liberation Serif',serif;font-kerning:none;font-size:34px">C4-B2</text>
<path d="M591,573.2H616 M650,573.2H666" stroke="#0D62DC" stroke-width="5" stroke-linecap="round"/>
<text x="674.5" y="584.7" style="font-family:'Liberation Serif',serif;font-kerning:none;font-size:34px">Cell Voltage</text>
<text x="112.3" y="616.8" text-anchor="end" style="font-family:'Liberation Serif',serif;font-kerning:none;font-weight:bold;font-size:34px">20</text>
<text x="112.3" y="468.8" text-anchor="end" style="font-family:'Liberation Serif',serif;font-kerning:none;font-weight:bold;font-size:34px">30</text>
<text x="112.3" y="320.8" text-anchor="end" style="font-family:'Liberation Serif',serif;font-kerning:none;font-weight:bold;font-size:34px">40</text>
<text x="112.3" y="172.8" text-anchor="end" style="font-family:'Liberation Serif',serif;font-kerning:none;font-weight:bold;font-size:34px">50</text>
<text x="112.3" y="24.8" text-anchor="end" style="font-family:'Liberation Serif',serif;font-kerning:none;font-weight:bold;font-size:34px">60</text>
<text x="124.6" y="645.3" text-anchor="middle" style="font-family:'Liberation Serif',serif;font-kerning:none;font-weight:bold;font-size:34px">0</text>
<text x="229.7" y="645.3" text-anchor="middle" style="font-family:'Liberation Serif',serif;font-kerning:none;font-weight:bold;font-size:34px">3</text>
<text x="334.8" y="645.3" text-anchor="middle" style="font-family:'Liberation Serif',serif;font-kerning:none;font-weight:bold;font-size:34px">6</text>
<text x="439.9" y="645.3" text-anchor="middle" style="font-family:'Liberation Serif',serif;font-kerning:none;font-weight:bold;font-size:34px">9</text>
<text x="545.0" y="645.3" text-anchor="middle" style="font-family:'Liberation Serif',serif;font-kerning:none;font-weight:bold;font-size:34px">12</text>
<text x="650.1" y="645.3" text-anchor="middle" style="font-family:'Liberation Serif',serif;font-kerning:none;font-weight:bold;font-size:34px">15</text>
<text x="755.1" y="645.3" text-anchor="middle" style="font-family:'Liberation Serif',serif;font-kerning:none;font-weight:bold;font-size:34px">18</text>
<text x="860.2" y="645.3" text-anchor="middle" style="font-family:'Liberation Serif',serif;font-kerning:none;font-weight:bold;font-size:34px">21</text>
<text x="873" y="616.6" style="font-family:'Liberation Serif',serif;font-kerning:none;font-weight:bold;font-size:34px">0</text>
<text x="873" y="517.9" style="font-family:'Liberation Serif',serif;font-kerning:none;font-weight:bold;font-size:34px">1</text>
<text x="873" y="419.3" style="font-family:'Liberation Serif',serif;font-kerning:none;font-weight:bold;font-size:34px">2</text>
<text x="873" y="320.6" style="font-family:'Liberation Serif',serif;font-kerning:none;font-weight:bold;font-size:34px">3</text>
<text x="873" y="221.9" style="font-family:'Liberation Serif',serif;font-kerning:none;font-weight:bold;font-size:34px">4</text>
<text x="873" y="123.3" style="font-family:'Liberation Serif',serif;font-kerning:none;font-weight:bold;font-size:34px">5</text>
<text x="873" y="24.6" style="font-family:'Liberation Serif',serif;font-kerning:none;font-weight:bold;font-size:34px">6</text>
<text x="492" y="714.5" text-anchor="middle" style="font-family:'Liberation Serif',serif;font-kerning:none;font-size:50px">Time, min</text>
<text transform="translate(38.5,289.5) rotate(-90)" text-anchor="middle" style="font-family:'Liberation Serif',serif;font-kerning:none;font-size:50px">Cell Temperature, °C</text>
<text transform="translate(941,309.5) rotate(-90)" text-anchor="middle" style="font-family:'Liberation Serif',serif;font-kerning:none;font-size:50px">Voltage, V</text>
<text x="820" y="64.5" text-anchor="middle" style="font-family:'Liberation Serif',serif;font-kerning:none;font-size:50px">(a)</text>
<path d="M175.5,1352V1346.5 M228.0,1352V1341.0 M280.5,1352V1346.5 M333.0,1352V1341.0 M385.5,1352V1346.5 M438.0,1352V1341.0 M490.5,1352V1346.5 M543.0,1352V1341.0 M595.5,1352V1346.5 M648.0,1352V1341.0 M700.5,1352V1346.5 M753.0,1352V1341.0 M805.5,1352V1346.5 M123,1292.8H128.5 M123,1233.6H134.0 M123,1174.4H128.5 M123,1115.2H134.0 M123,1056.0H128.5 M123,996.8H134.0 M123,937.6H128.5 M123,878.4H134.0 M123,819.2H128.5 M858,1278.0H846.0 M858,1204.0H852.0 M858,1130.0H846.0 M858,1056.0H852.0 M858,982.0H846.0 M858,908.0H852.0 M858,834.0H846.0" stroke="#000" stroke-width="2" fill="none"/>
<rect x="123" y="760" width="735" height="592" fill="none" stroke="#000" stroke-width="2"/>
<g fill="none" stroke-linecap="round" stroke-linejoin="round" clip-path="url(#cb)">
<path d="M123.5,1235.8 L124.3,1257.4 L125.1,1270.2 L125.9,1281.1 L126.7,1286.0 L127.5,1303.4 L128.3,1314.8 L129.1,1318.7 L129.9,1333.1 L130.7,1338.9 L131.5,1345.4 L132.3,1342.2 L133.1,1330.3 L133.9,1323.4 L134.7,1311.5 L135.5,1307.6 L136.3,1287.5 L137.1,1285.6 L137.9,1285.8 L138.7,1297.6 L139.5,1294.8 L140.3,1300.6 L141.1,1305.9 L141.9,1308.5 L142.7,1307.6 L143.5,1320.1 L144.3,1308.6 L145.1,1317.2 L145.9,1314.4 L146.7,1313.3 L147.5,1302.8 L148.3,1292.8 L149.1,1295.8 L149.9,1290.4 L150.7,1285.4 L151.5,1279.3 L152.3,1272.0 L153.1,1259.4 L153.9,1267.2 L154.7,1279.8 L155.5,1284.1 L156.3,1282.6 L157.1,1274.3 L157.9,1276.0 L158.7,1271.9 L159.5,1269.4 L160.3,1257.2 L161.1,1253.9 L161.9,1248.7 L162.7,1241.2 L163.5,1246.7 L164.3,1238.7 L165.1,1235.1 L165.9,1236.7 L166.7,1243.6 L167.5,1238.7 L168.3,1244.8 L169.1,1237.6 L169.9,1238.1 L170.7,1235.5 L171.5,1232.6 L172.3,1226.2 L173.1,1226.0 L173.9,1222.7 L174.7,1214.8 L175.5,1212.1 L176.3,1212.4 L177.1,1198.5 L177.9,1190.3 L178.7,1187.7 L179.5,1185.3 L180.3,1178.9 L181.1,1164.0 L181.9,1152.1 L182.7,1155.0 L183.5,1152.8 L184.3,1149.5 L185.1,1151.2 L185.9,1146.6 L186.7,1146.2 L187.5,1143.8 L188.3,1135.4 L189.1,1131.2 L189.9,1122.9 L190.7,1110.6 L191.5,1106.4 L192.3,1085.9 L193.1,1087.7 L193.9,1085.9 L194.7,1091.1 L195.5,1091.0 L196.3,1085.0 L197.1,1086.9 L197.9,1086.4 L198.7,1086.1 L199.5,1087.4 L200.3,1079.3 L201.1,1068.2 L201.9,1051.5 L202.7,1034.2 L203.5,1017.1 L204.3,997.7 L205.1,976.1 L205.9,956.0 L206.7,957.1 L207.5,967.4 L208.3,986.8 L209.1,1004.5 L209.9,1021.7 L210.7,1038.3 L211.5,1056.5 L212.3,1073.4 L213.1,1080.7 L213.9,1084.6 L214.7,1088.4 L215.5,1089.7 L216.3,1092.8 L217.1,1105.3 L217.9,1119.4 L218.7,1130.9 L219.5,1142.6 L220.3,1152.5 L221.1,1163.6 L221.9,1177.5 L222.7,1184.9 L223.5,1186.0 L224.3,1187.4 L225.1,1197.6 L225.9,1199.9 L226.7,1198.4 L227.5,1202.1 L228.3,1207.5 L229.1,1211.0 L229.9,1219.9 L230.7,1224.7 L231.5,1225.8 L232.3,1234.1 L233.1,1234.8 L233.9,1241.4 L234.7,1249.9 L235.5,1256.0 L236.3,1257.3 L237.1,1256.1 L237.9,1243.6 L238.7,1237.2 L239.5,1232.6 L240.3,1235.8 L241.1,1235.2 L241.9,1231.8 L242.7,1231.3 L243.5,1227.8 L244.3,1221.5 L245.1,1228.9 L245.9,1228.1 L246.7,1233.0 L247.5,1235.6 L248.3,1231.3 L249.1,1225.8 L249.9,1216.7 L250.7,1216.2 L251.5,1214.2 L252.3,1210.3 L253.1,1207.4 L253.9,1205.5 L254.7,1205.8 L255.5,1201.7 L256.3,1195.0 L257.1,1191.1 L257.9,1188.4 L258.7,1192.6 L259.5,1194.5 L260.3,1185.0 L261.1,1188.4 L261.9,1186.9 L262.7,1188.1 L263.5,1186.1 L264.3,1181.7 L265.1,1184.7 L265.9,1186.2 L266.7,1188.5 L267.5,1186.8 L268.3,1183.6 L269.1,1183.7 L269.9,1187.8 L270.7,1191.7 L271.5,1199.3 L272.3,1201.9 L273.1,1198.5 L273.9,1207.0 L274.7,1197.3 L275.5,1188.7 L276.3,1181.5 L277.1,1179.6 L277.9,1180.8 L278.7,1171.7 L279.5,1170.3 L280.3,1170.6 L281.1,1170.0 L281.9,1166.3 L282.7,1166.4 L283.5,1177.1 L284.3,1170.9 L285.1,1179.4 L285.9,1177.0 L286.7,1174.6 L287.5,1177.8 L288.3,1180.3 L289.1,1190.0 L289.9,1180.9 L290.7,1183.3 L291.5,1177.1 L292.3,1186.0 L293.1,1173.2 L293.9,1177.1 L294.7,1171.6 L295.5,1172.5 L296.3,1170.3 L297.1,1174.9 L297.9,1180.6 L298.7,1174.0 L299.5,1177.6 L300.3,1176.4 L301.1,1186.0 L301.9,1175.4 L302.7,1165.7 L303.5,1173.3 L304.3,1170.6 L305.1,1168.5 L305.9,1173.9 L306.7,1173.5 L307.5,1160.6 L308.3,1164.3 L309.1,1166.5 L309.9,1170.1 L310.7,1168.9 L311.5,1168.2 L312.3,1168.4 L313.1,1171.8 L313.9,1174.7 L314.7,1175.8 L315.5,1165.3 L316.3,1175.2 L317.1,1176.0 L317.9,1183.8 L318.7,1174.6 L319.5,1178.1 L320.3,1178.4 L321.1,1165.0 L321.9,1158.9 L322.7,1163.9 L323.5,1157.4 L324.3,1160.8 L325.1,1170.1 L325.9,1168.6 L326.7,1162.8 L327.5,1165.5 L328.3,1179.4 L329.1,1174.1 L329.9,1175.8 L330.7,1180.5 L331.5,1182.1 L332.3,1186.2 L333.1,1175.6 L333.9,1175.9 L334.7,1170.0 L335.5,1175.3 L336.3,1179.2 L337.1,1174.9 L337.9,1175.9 L338.7,1177.3 L339.5,1175.6 L340.3,1168.8 L341.1,1161.1 L341.9,1163.4 L342.7,1164.5 L343.5,1172.8 L344.3,1169.6 L345.1,1161.9 L345.9,1167.6 L346.7,1169.1 L347.5,1156.8 L348.3,1172.7 L349.1,1164.6 L349.9,1173.0 L350.7,1161.1 L351.5,1161.9 L352.3,1167.4 L353.1,1167.1 L353.9,1161.2 L354.7,1164.7 L355.5,1159.3 L356.3,1159.2 L357.1,1155.4 L357.9,1167.7 L358.7,1169.3 L359.5,1172.7 L360.3,1175.7 L361.1,1174.7 L361.9,1171.1 L362.7,1163.4 L363.5,1172.1 L364.3,1175.6 L365.1,1170.6 L365.9,1166.4 L366.7,1178.8 L367.5,1164.3 L368.3,1169.7 L369.1,1179.1 L369.9,1168.6 L370.7,1173.2 L371.5,1170.8 L372.3,1174.6 L373.1,1172.4 L373.9,1166.4 L374.7,1168.9 L375.5,1163.2 L376.3,1171.1 L377.1,1166.8 L377.9,1166.5 L378.7,1166.8 L379.5,1161.0 L380.3,1162.2 L381.1,1162.6 L381.9,1166.3 L382.7,1161.1 L383.5,1159.2 L384.3,1157.2 L385.1,1171.4 L385.9,1168.1 L386.7,1150.5 L387.5,1159.0 L388.3,1162.3 L389.1,1169.1 L389.9,1160.3 L390.7,1166.6 L391.5,1166.6 L392.3,1154.9 L393.1,1152.4 L393.9,1150.7 L394.7,1145.6 L395.5,1140.9 L396.3,1127.9 L397.1,1089.0 L397.9,996.7 L398.7,920.5 L399.5,859.9 L400.3,823.1 L401.1,847.2 L401.9,884.1 L402.7,927.7 L403.5,957.1 L404.3,986.0 L405.1,1009.1 L405.9,1031.0 L406.7,1052.9 L407.5,1073.3 L408.3,1092.5 L409.1,1111.7 L409.9,1125.0 L410.7,1139.4 L411.5,1155.7 L412.3,1168.4 L413.1,1178.6 L413.9,1180.1 L414.7,1193.9 L415.5,1203.1 L416.3,1205.6 L417.1,1213.1 L417.9,1221.2 L418.7,1230.1 L419.5,1236.2 L420.3,1221.2 L421.1,1225.6 L421.9,1233.4 L422.7,1237.2 L423.5,1237.6 L424.3,1234.5 L425.1,1242.3 L425.9,1244.7 L426.7,1242.9 L427.5,1243.7 L428.3,1250.7 L429.1,1254.8 L429.9,1251.7 L430.7,1249.9 L431.5,1254.0 L432.3,1251.4 L433.1,1252.7 L433.9,1254.6 L434.7,1254.3 L435.5,1253.6 L436.3,1248.2 L437.1,1251.7 L437.9,1262.4 L438.7,1257.5 L439.5,1261.6 L440.3,1261.4 L441.1,1265.3 L441.9,1269.5 L442.7,1276.8 L443.5,1278.1 L444.3,1281.2 L445.1,1279.9 L445.9,1287.1 L446.7,1295.8 L447.5,1296.4 L448.3,1309.7 L449.1,1296.0 L449.9,1298.0 L450.7,1292.7 L451.5,1307.0 L452.3,1306.4 L453.1,1303.5 L453.9,1309.6 L454.7,1306.7 L455.5,1332.1 L456.3,1336.9 L457.1,1313.6 L457.9,1324.7 L458.7,1339.1 L459.5,1321.2 L460.3,1315.4 L461.1,1321.7 L461.9,1319.1 L462.7,1317.1 L463.5,1315.1 L464.3,1305.5 L465.1,1325.9 L465.9,1317.4 L466.7,1330.0 L467.5,1320.2 L468.3,1322.2 L469.1,1319.5 L469.9,1319.6 L470.7,1329.7 L471.5,1331.8 L472.3,1322.2 L473.1,1317.3 L473.9,1305.9 L474.7,1304.2 L475.5,1306.1 L476.3,1295.3 L477.1,1307.7 L477.9,1309.2 L478.7,1314.5 L479.5,1312.7 L480.3,1304.9 L481.1,1315.5 L481.9,1337.0 L482.7,1332.0 L483.5,1327.8 L484.3,1306.6 L485.1,1323.6 L485.9,1323.4 L486.7,1326.6 L487.5,1336.8 L488.3,1329.5 L489.1,1330.5 L489.9,1325.3 L490.7,1324.7 L491.5,1317.3 L492.3,1301.1 L493.1,1309.5 L493.9,1300.6 L494.7,1315.6 L495.5,1327.4 L496.3,1323.1 L497.1,1319.6 L497.9,1349.9 L498.7,1350.0 L499.5,1345.7 L500.3,1324.3 L501.1,1333.5 L501.9,1339.2 L502.7,1343.7 L503.5,1331.5 L504.3,1337.8 L505.1,1326.8 L505.9,1331.1 L506.7,1337.2 L507.5,1333.2 L508.3,1323.4 L509.1,1339.0 L509.9,1330.1 L510.7,1343.9 L511.5,1345.2 L512.3,1350.0 L513.1,1348.6 L513.9,1338.0 L514.7,1328.2 L515.5,1339.4 L516.3,1331.2 L517.1,1331.7 L517.9,1344.6 L518.7,1347.4 L519.5,1344.8 L520.3,1342.2 L521.1,1342.6 L521.9,1347.5 L522.7,1349.9 L523.5,1354.5 L524.3,1347.4 L525.1,1351.1 L525.9,1351.4 L526.7,1348.5 L527.5,1350.1 L528.3,1351.2 L529.1,1348.5 L529.9,1349.7 L530.7,1351.0 L531.5,1348.2 L532.3,1351.8 L533.1,1350.4 L533.9,1356.0 L534.7,1355.6 L535.5,1353.2 L536.3,1358.6 L537.1,1359.8 L537.9,1358.3 L538.7,1356.9 L539.5,1359.6 L540.3,1352.8 L541.1,1354.7 L541.9,1351.6 L542.7,1356.1 L543.5,1358.0 L544.3,1356.4 L545.1,1362.4 L545.9,1357.8 L546.7,1362.5 L547.5,1360.4 L548.3,1360.3 L549.1,1355.8 L549.9,1357.0 L550.7,1359.9 L551.5,1354.7 L552.3,1354.9 L553.1,1363.3 L553.9,1358.0 L554.7,1355.7 L555.5,1356.4 L556.3,1357.6 L557.1,1355.7 L557.9,1355.8 L558.7,1359.6 L559.5,1356.8 L560.3,1356.0 L561.1,1360.8 L561.9,1358.0 L562.7,1359.9 L563.5,1361.4 L564.3,1353.9 L565.1,1355.5 L565.9,1353.5 L566.7,1352.7 L567.5,1355.7 L568.3,1350.5 L569.1,1356.0 L569.9,1360.4 L570.7,1353.9 L571.5,1354.0 L572.3,1352.4 L573.1,1356.8 L573.9,1354.7 L574.7,1360.4 L575.5,1358.9 L576.3,1357.9 L577.1,1359.3 L577.9,1358.2 L578.7,1357.4 L579.5,1356.4 L580.3,1353.5 L581.1,1352.5 L581.9,1352.5 L582.7,1356.6 L583.5,1358.7 L584.3,1353.3 L585.1,1348.5 L585.9,1354.3 L586.7,1351.8 L587.5,1350.5 L588.3,1351.9 L589.1,1358.3 L589.9,1353.5 L590.7,1353.4 L591.5,1349.8 L592.3,1350.3 L593.1,1356.2 L593.9,1355.8 L594.7,1352.9 L595.5,1348.9 L596.3,1350.8 L597.1,1358.0 L597.9,1354.9 L598.7,1359.8 L599.5,1356.7 L600.3,1354.9 L601.1,1353.4 L601.9,1350.0 L602.7,1350.5 L603.5,1357.1 L604.3,1354.1 L605.1,1357.6 L605.9,1352.1 L606.7,1355.6 L607.5,1356.5 L608.3,1362.3 L609.1,1353.6 L609.9,1355.4 L610.7,1355.8 L611.5,1353.9 L612.3,1356.5 L613.1,1353.5 L613.9,1353.9 L614.7,1355.3 L615.5,1351.2 L616.3,1352.1 L617.1,1350.2 L617.9,1350.0 L618.7,1350.9 L619.5,1352.7 L620.3,1353.0 L621.1,1355.4 L621.9,1352.7 L622.7,1353.1 L623.5,1358.8 L624.3,1357.7 L625.1,1357.9 L625.9,1352.0 L626.7,1355.2 L627.5,1355.6 L628.3,1355.5 L629.1,1354.5 L629.9,1358.1 L630.7,1353.1 L631.5,1353.4 L632.3,1355.1 L633.1,1358.1 L633.9,1354.9 L634.7,1353.3 L635.5,1355.7 L636.3,1356.2 L637.1,1355.4 L637.9,1355.0 L638.7,1354.2 L639.5,1354.1 L640.3,1350.4 L641.1,1355.4 L641.9,1355.9 L642.7,1353.5 L643.5,1355.6 L644.3,1355.6 L645.1,1351.4 L645.9,1357.4 L646.7,1351.5 L647.5,1354.8 L648.3,1353.5 L649.1,1353.2 L649.9,1352.5 L650.7,1346.6 L651.5,1352.7 L652.3,1352.1 L653.1,1358.0 L653.9,1353.9 L654.7,1352.5 L655.5,1361.4 L656.3,1358.3 L657.1,1356.5 L657.9,1356.5 L658.7,1357.6 L659.5,1352.2 L660.3,1354.3 L661.1,1353.1 L661.9,1356.5 L662.7,1353.1 L663.5,1349.3 L664.3,1349.8 L665.1,1356.1 L665.9,1354.3 L666.7,1353.7 L667.5,1354.4 L668.3,1355.3 L669.1,1356.8 L669.9,1356.4 L670.7,1357.6 L671.5,1358.3 L672.3,1355.8 L673.1,1360.2 L673.9,1362.4 L674.7,1360.6 L675.5,1358.6 L676.3,1356.6 L677.1,1353.6 L677.9,1353.6 L678.7,1351.7 L679.5,1354.0 L680.3,1351.5 L681.1,1353.4 L681.9,1353.4 L682.7,1352.7 L683.5,1349.2 L684.3,1354.5 L685.1,1353.7 L685.9,1351.5 L686.7,1352.4 L687.5,1347.7 L688.3,1352.7 L689.1,1353.0 L689.9,1360.1 L690.7,1355.4 L691.5,1355.2 L692.3,1357.0 L693.1,1355.6 L693.9,1358.0 L694.7,1355.0 L695.5,1358.0 L696.3,1359.6 L697.1,1358.6 L697.9,1359.8 L698.7,1357.2 L699.5,1354.6 L700.3,1349.7 L701.1,1355.2 L701.9,1352.8 L702.7,1357.0 L703.5,1362.3 L704.3,1361.8 L705.1,1356.5 L705.9,1360.4 L706.7,1356.7 L707.5,1358.0 L708.3,1353.3 L709.1,1357.0 L709.9,1353.1 L710.7,1352.0 L711.5,1351.3 L712.3,1354.2 L713.1,1363.3 L713.9,1359.9 L714.7,1351.9 L715.5,1351.4 L716.3,1351.8 L717.1,1355.2 L717.9,1358.7 L718.7,1354.9 L719.5,1353.7 L720.3,1353.6 L721.1,1352.4 L721.9,1357.9 L722.7,1353.9 L723.5,1358.5 L724.3,1352.8 L725.1,1350.8 L725.9,1359.6 L726.7,1355.3 L727.5,1356.0 L728.3,1356.7 L729.1,1354.3 L729.9,1354.4 L730.7,1358.4 L731.5,1353.1 L732.3,1360.6 L733.1,1358.4 L733.9,1357.8 L734.7,1349.8 L735.5,1353.5 L736.3,1354.4 L737.1,1356.7 L737.9,1352.8 L738.7,1353.3 L739.5,1352.1 L740.3,1354.3 L741.1,1355.7 L741.9,1348.4 L742.7,1350.5 L743.5,1354.9 L744.3,1359.8 L745.1,1357.2 L745.9,1354.8 L746.7,1355.3 L747.5,1354.1 L748.3,1355.4 L749.1,1359.1 L749.9,1357.7 L750.7,1362.1 L751.5,1357.4 L752.3,1358.8 L753.1,1358.5 L753.9,1357.9 L754.7,1357.8 L755.5,1359.0 L756.3,1353.7 L757.1,1353.2 L757.9,1357.8 L758.7,1352.8 L759.5,1352.5 L760.3,1356.1 L761.1,1355.8 L761.9,1357.3 L762.7,1354.7 L763.5,1358.0 L764.3,1351.3 L765.1,1354.0 L765.9,1350.6 L766.7,1353.6 L767.5,1355.2 L768.3,1355.5 L769.1,1356.3 L769.9,1355.6 L770.7,1360.0 L771.5,1358.9 L772.3,1357.4 L773.1,1357.2 L773.9,1356.0 L774.7,1353.4 L775.5,1358.2 L776.3,1360.9 L777.1,1361.7 L777.9,1357.6 L778.7,1357.8 L779.5,1355.8 L780.3,1356.0 L781.1,1355.4 L781.9,1354.4 L782.7,1352.6 L783.5,1359.3 L784.3,1353.5 L785.1,1354.8 L785.9,1349.2 L786.7,1350.3 L787.5,1352.3 L788.3,1352.6 L789.1,1355.1 L789.9,1353.8 L790.7,1352.7 L791.5,1348.9 L792.3,1351.4 L793.1,1347.9 L793.9,1354.1 L794.7,1355.9 L795.5,1356.8 L796.3,1357.5 L797.1,1355.1 L797.9,1358.8 L798.7,1355.1 L799.5,1355.9 L800.3,1356.8 L801.1,1351.6 L801.9,1351.3 L802.7,1351.6 L803.5,1352.6 L804.3,1353.3 L805.1,1352.0 L805.9,1359.3 L806.7,1355.3 L807.5,1352.6 L808.3,1355.2 L809.1,1355.1 L809.9,1357.7 L810.7,1360.0 L811.5,1356.0 L812.3,1356.7 L813.1,1357.0 L813.9,1356.6 L814.7,1353.9 L815.5,1351.1 L816.3,1349.7 L817.1,1358.0 L817.9,1357.9 L818.7,1356.6 L819.5,1349.5 L820.3,1351.8 L821.1,1352.4 L821.9,1352.9 L822.7,1354.1 L823.5,1357.8 L824.3,1357.3 L825.1,1358.0 L825.9,1357.3 L826.7,1353.9 L827.5,1356.4 L828.3,1356.1 L829.1,1356.4 L829.9,1354.3 L830.7,1353.8 L831.5,1355.1 L832.3,1354.5 L833.1,1357.8 L833.9,1356.3 L834.7,1356.2 L835.5,1358.1 L836.3,1358.6 L837.1,1352.1 L837.9,1355.3 L838.7,1357.6 L839.5,1361.6 L840.3,1358.8 L841.1,1358.1 L841.9,1352.3 L842.7,1356.3 L843.5,1356.7 L844.3,1358.9 L845.1,1354.0 L845.9,1355.9 L846.7,1358.9 L847.5,1354.2 L848.3,1354.4 L849.1,1354.5 L849.9,1352.3 L850.7,1359.6 L851.5,1361.1 L852.3,1357.2 L853.1,1355.7 L853.9,1356.6 L854.7,1354.0 L855.5,1356.3 L856.3,1352.9" stroke="#000" stroke-width="7"/>
<path d="M124.0,853.8 L124.9,855.2 L125.8,854.9 L126.7,853.7 L127.6,854.9 L128.5,855.1 L129.4,854.4 L130.3,854.1 L131.2,853.3 L132.1,854.2 L133.0,854.5 L133.9,855.8 L134.8,857.6 L135.7,856.5 L136.6,856.2 L137.5,853.0 L138.4,855.2 L139.3,855.5 L140.2,855.1 L141.1,854.2 L142.0,855.1 L142.9,855.3 L143.8,856.2 L144.7,856.9 L145.6,857.4 L146.5,857.2 L147.4,855.1 L148.3,855.6 L149.2,854.3 L150.1,854.0 L151.0,853.8 L151.9,853.3 L152.8,853.4 L153.7,855.5 L154.6,855.2 L155.5,856.6 L156.4,856.0 L157.3,853.9 L158.2,853.8 L159.1,855.9 L160.0,856.5 L160.9,855.6 L161.8,855.1 L162.7,856.2 L163.6,854.6 L164.5,855.4 L165.4,856.3 L166.3,855.7 L167.2,854.5 L168.1,853.4 L169.0,852.3 L169.9,855.8 L170.8,855.6 L171.7,856.9 L172.6,856.2 L173.5,855.7 L174.4,855.6 L175.3,855.6 L176.2,854.1 L177.1,854.5 L178.0,855.7 L178.9,857.4 L179.8,855.9 L180.7,855.8 L181.6,856.1 L182.5,857.0 L183.4,856.5 L184.3,855.5 L185.2,856.9 L186.1,856.3 L187.0,855.8 L187.9,858.1 L188.8,855.2 L189.7,855.1 L190.6,854.1 L191.5,856.0 L192.4,854.7 L193.3,855.0 L194.2,855.4 L195.1,854.9 L196.0,854.9 L196.9,854.6 L197.8,854.2 L198.7,853.8 L199.6,854.6 L200.5,854.6 L201.4,853.9 L202.3,854.0 L203.2,856.5 L204.1,854.7 L205.0,854.4 L205.9,854.2 L206.8,854.6 L207.7,855.5 L208.6,854.6 L209.5,855.1 L210.4,855.5 L211.3,856.8 L212.2,855.4 L213.1,854.6 L214.0,855.5 L214.9,855.2 L215.8,854.6 L216.7,854.6 L217.6,856.0 L218.5,854.1 L219.4,854.4 L220.3,856.2 L221.2,856.0 L222.1,854.8 L223.0,854.4 L223.9,855.6 L224.8,855.8 L225.7,855.0 L226.6,854.5 L227.5,853.6 L228.4,853.1 L229.3,854.4 L230.2,855.2 L231.1,854.6 L232.0,855.5 L232.9,854.7 L233.8,855.2 L234.7,853.2 L235.6,854.9 L236.5,856.7 L237.4,856.6 L238.3,855.8 L239.2,855.9 L240.1,855.5 L241.0,855.4 L241.9,855.2 L242.8,855.6 L243.7,855.0 L244.6,855.0 L245.5,854.6 L246.4,855.5 L247.3,856.5 L248.2,856.5 L249.1,856.2 L250.0,856.9 L250.9,855.3 L251.8,857.1 L252.7,854.3 L253.6,855.3 L254.5,855.3 L255.4,855.5 L256.3,853.9 L257.2,855.5 L258.1,855.5 L259.0,855.4 L259.9,856.2 L260.8,855.8 L261.7,855.5 L262.6,856.1 L263.5,855.5 L264.4,855.6 L265.3,855.0 L266.2,854.5 L267.1,854.8 L268.0,854.4 L268.9,854.9 L269.8,854.8 L270.7,854.4 L271.6,854.6 L272.5,853.7 L273.4,855.0 L274.3,855.6 L275.2,853.2 L276.1,854.1 L277.0,854.2 L277.9,855.1 L278.8,857.0 L279.7,855.6 L280.6,855.2 L281.5,854.4 L282.4,855.0 L283.3,855.7 L284.2,855.6 L285.1,855.4 L286.0,854.3 L286.9,854.6 L287.8,853.9 L288.7,854.1 L289.6,856.0 L290.5,855.6 L291.4,854.6 L292.3,853.8 L293.2,853.0 L294.1,853.6 L295.0,856.2 L295.9,855.4 L296.8,855.0 L297.7,854.1 L298.6,854.1 L299.5,855.4 L300.4,856.1 L301.3,855.4 L302.2,854.5 L303.1,855.4 L304.0,857.3 L304.9,858.8 L305.8,858.3 L306.7,856.7 L307.6,856.5 L308.5,855.5 L309.4,854.5 L310.3,854.2 L311.2,854.6 L312.1,855.4 L313.0,856.6 L313.9,857.0 L314.8,856.5 L315.7,853.7 L316.6,855.7 L317.5,855.8 L318.4,854.8 L319.3,856.1 L320.2,854.8 L321.1,854.6 L322.0,854.9 L322.9,854.9 L323.8,854.9 L324.7,853.1 L325.6,852.8 L326.5,856.8 L327.4,855.1 L328.3,855.0 L329.2,853.9 L330.1,853.3 L331.0,853.1 L331.9,855.0 L332.8,854.1 L333.7,855.3 L334.6,854.1 L335.5,853.6 L336.4,853.7 L337.3,855.5 L338.2,854.6 L339.1,854.6 L340.0,854.2 L340.9,854.1 L341.8,855.5 L342.7,854.7 L343.6,854.6 L344.5,853.7 L345.4,853.7 L346.3,854.4 L347.2,856.1 L348.1,857.2 L349.0,855.0 L349.9,854.8 L350.8,853.2 L351.7,853.8 L352.6,854.4 L353.5,855.3 L354.4,855.6 L355.3,857.4 L356.2,853.6 L357.1,852.9 L358.0,855.4 L358.9,854.0 L359.8,855.4 L360.7,855.5 L361.6,856.1 L362.5,854.0 L363.4,854.9 L364.3,855.3 L365.2,855.2 L366.1,855.5 L367.0,854.2 L367.9,858.9 L368.8,854.4 L369.7,854.6 L370.6,855.6 L371.5,855.8 L372.4,856.9 L373.3,855.9 L374.2,854.5 L375.1,855.1 L376.0,855.5 L376.9,853.7 L377.8,855.2 L378.7,856.3 L379.6,854.9 L380.5,855.8 L381.4,855.5 L382.3,856.1 L383.2,855.1 L384.1,855.8 L385.0,856.1 L385.9,855.6 L386.8,855.0 L387.7,854.9 L388.6,855.6 L389.5,856.7 L390.4,855.7 L391.3,856.2 L392.2,855.7 L393.1,857.1 L394.0,857.2 L394.9,856.9 L395.8,856.4 L396.7,855.2 L397.6,853.6 L398.5,855.1 L399.4,854.4 L400.3,854.1 L401.2,855.5 L402.1,855.5 L403.0,854.3 L403.9,855.7 L404.8,855.1 L405.7,856.0 L406.6,854.5 L407.5,853.3 L408.4,853.6 L409.3,855.0 L410.2,853.1 L411.1,853.0 L412.0,854.9 L412.9,857.3 L413.8,856.0 L414.7,854.6 L415.6,854.4 L416.5,853.9 L417.4,855.9 L418.3,856.1 L419.2,854.7 L420.1,855.7 L421.5,858.0 L421.5,1277.5 L423.0,1276.8 L423.9,1277.5 L424.8,1277.1 L425.7,1278.4 L426.6,1279.7 L427.5,1278.1 L428.4,1276.9 L429.3,1277.3 L430.2,1277.3 L431.1,1277.8 L432.0,1277.3 L432.9,1277.3 L433.8,1276.6 L434.7,1277.7 L435.6,1278.3 L436.5,1278.1 L437.4,1278.4 L438.3,1277.9 L439.2,1278.4 L440.1,1277.4 L441.0,1276.8 L441.9,1277.0 L442.8,1277.5 L443.7,1278.7 L444.6,1276.8 L445.5,1278.4 L446.4,1277.4 L447.3,1277.9 L448.2,1278.0 L449.1,1278.2 L450.0,1276.9 L450.9,1278.5 L451.8,1282.6 L452.7,1277.1 L453.6,1277.0 L454.5,1278.0 L455.4,1278.8 L456.3,1277.1 L457.2,1276.0 L458.1,1275.7 L459.0,1277.4 L459.9,1275.8 L460.8,1279.1 L461.7,1278.4 L462.6,1278.5 L463.5,1278.4 L464.4,1275.3 L465.3,1276.6 L466.2,1277.0 L467.1,1275.9 L468.0,1278.1 L468.9,1277.7 L469.8,1277.6 L470.7,1276.3 L471.6,1277.8 L472.5,1278.7 L473.4,1278.1 L474.3,1278.7 L475.2,1277.4 L476.1,1277.4 L477.0,1277.4 L477.9,1278.1 L478.8,1277.4 L479.7,1278.7 L480.6,1277.3 L481.5,1275.5 L482.4,1276.6 L483.3,1276.8 L484.2,1276.6 L485.1,1276.2 L486.0,1276.8 L486.9,1277.0 L487.8,1278.5 L488.7,1276.7 L489.6,1277.7 L490.5,1278.2 L491.4,1277.5 L492.3,1281.4 L493.2,1278.7 L494.1,1279.1 L495.0,1276.3 L495.9,1277.4 L496.8,1277.4 L497.7,1277.4 L498.6,1278.1 L499.5,1277.5 L500.4,1278.3 L501.3,1282.7 L502.2,1275.6 L503.1,1276.4 L504.0,1280.5 L504.9,1278.5 L505.8,1279.2 L506.7,1278.2 L507.6,1278.0 L508.5,1279.2 L509.4,1279.4 L510.3,1278.7 L511.2,1277.8 L512.1,1277.9 L513.0,1278.8 L513.9,1277.8 L514.8,1275.3 L515.7,1276.5 L516.6,1275.8 L517.5,1278.1 L518.4,1277.1 L519.3,1278.7 L520.2,1277.9 L521.1,1277.7 L522.0,1275.8 L522.9,1276.3 L523.8,1277.3 L524.7,1278.9 L525.6,1278.9 L526.5,1278.5 L527.4,1276.7 L528.3,1276.9 L529.2,1278.2 L530.1,1277.2 L531.0,1278.8 L531.9,1277.9 L532.8,1276.9 L533.7,1278.2 L534.6,1277.6 L535.5,1279.3 L536.4,1277.3 L537.3,1277.6 L538.2,1278.3 L539.1,1277.5 L540.0,1277.2 L540.9,1276.6 L541.8,1276.4 L542.7,1278.3 L543.6,1277.5 L544.5,1277.6 L545.4,1278.6 L546.3,1277.5 L547.2,1276.6 L548.1,1277.0 L549.0,1278.2 L549.9,1279.4 L550.8,1279.1 L551.7,1278.5 L552.6,1276.8 L553.5,1276.9 L554.4,1277.7 L555.3,1276.9 L556.2,1277.9 L557.1,1278.1 L558.0,1277.6 L558.9,1276.7 L559.8,1280.7 L560.7,1276.1 L561.6,1277.4 L562.5,1278.1 L563.4,1278.9 L564.3,1278.3 L565.2,1277.7 L566.1,1276.9 L567.0,1276.5 L567.9,1276.5 L568.8,1278.8 L569.7,1277.9 L570.6,1278.0 L571.5,1276.0 L572.4,1276.2 L573.3,1275.9 L574.2,1277.3 L575.1,1276.3 L576.0,1277.3 L576.9,1277.2 L577.8,1278.0 L578.7,1279.0 L579.6,1278.2 L580.5,1277.4 L581.4,1274.6 L582.3,1277.7 L583.2,1278.0 L584.1,1276.2 L585.0,1276.0 L585.9,1277.3 L586.8,1276.5 L587.7,1278.5 L588.6,1277.9 L589.5,1277.2 L590.4,1277.3 L591.3,1276.5 L592.2,1277.6 L593.1,1277.3 L594.0,1277.7 L594.9,1278.9 L595.8,1278.5 L596.7,1277.9 L597.6,1278.8 L598.5,1278.2 L599.4,1277.9 L600.3,1278.6 L601.2,1278.4 L602.1,1279.3 L603.0,1278.7 L603.9,1276.9 L604.8,1277.4 L605.7,1277.1 L606.6,1277.6 L607.5,1279.2 L608.4,1278.4 L609.3,1278.4 L610.2,1277.9 L611.1,1277.9 L612.0,1279.7 L612.9,1278.2 L613.8,1277.4 L614.7,1277.9 L615.6,1276.7 L616.5,1278.7 L617.4,1275.2 L618.3,1277.5 L619.2,1277.2 L620.1,1275.9 L621.0,1275.9 L621.9,1276.0 L622.8,1275.3 L623.7,1275.2 L624.6,1276.0 L625.5,1277.5 L626.4,1275.9 L627.3,1275.9 L628.2,1276.8 L629.1,1277.3 L630.0,1276.9 L630.9,1277.2 L631.8,1277.9 L632.7,1277.5 L633.6,1276.1 L634.5,1277.2 L635.4,1276.4 L636.3,1277.3 L637.2,1278.5 L638.1,1277.9 L639.0,1277.5 L639.9,1277.4 L640.8,1279.5 L641.7,1276.8 L642.6,1276.4 L643.5,1277.0 L644.4,1282.3 L645.3,1277.6 L646.2,1276.9 L647.1,1277.1 L648.0,1275.8 L648.9,1276.1 L649.8,1276.3 L650.7,1279.2 L651.6,1277.2 L653.5,1275.0 L653.5,855.0 L655.0,854.3 L655.9,852.3 L656.8,853.0 L657.7,854.6 L658.6,855.8 L659.5,854.7 L660.4,853.9 L661.3,855.3 L662.2,854.8 L663.1,856.1 L664.0,854.8 L664.9,855.3 L665.8,855.1 L666.7,855.2 L667.6,855.9 L668.5,855.6 L669.4,855.2 L670.3,855.0 L671.2,856.5 L672.1,856.4 L673.0,855.7 L673.9,854.0 L674.8,858.0 L675.7,854.4 L676.6,853.3 L677.5,854.1 L678.4,853.8 L679.3,854.4 L680.2,854.9 L681.1,854.7 L682.0,854.3 L682.9,854.5 L683.8,857.2 L684.7,855.3 L685.6,854.2 L686.5,853.9 L687.4,853.4 L688.3,853.9 L689.2,853.7 L690.1,854.6 L691.0,855.0 L691.9,855.9 L692.8,855.5 L693.7,855.6 L694.6,855.6 L695.5,852.8 L696.4,854.0 L697.3,854.2 L698.2,853.9 L699.1,854.5 L700.0,854.2 L700.9,855.2 L701.8,855.6 L702.7,854.1 L703.6,855.3 L704.5,853.7 L705.4,854.9 L706.3,856.7 L707.2,857.1 L708.1,855.1 L709.0,856.5 L709.9,857.5 L710.8,856.6 L711.7,856.1 L712.6,857.4 L713.5,856.7 L714.4,854.5 L715.3,854.7 L716.2,855.0 L717.1,855.8 L718.0,857.3 L718.9,856.9 L719.8,857.2 L720.7,854.9 L721.6,854.2 L722.5,854.8 L723.4,855.4 L724.3,857.4 L725.2,857.8 L726.1,855.4 L727.0,856.1 L727.9,855.0 L728.8,854.7 L729.7,855.0 L730.6,855.1 L731.5,855.3 L732.4,854.8 L733.3,855.8 L734.2,855.2 L735.1,855.0 L736.0,854.5 L736.9,854.9 L737.8,854.3 L738.7,853.9 L739.6,855.3 L740.5,855.7 L741.4,855.8 L742.3,855.6 L743.2,854.6 L744.1,853.6 L745.0,855.4 L745.9,855.3 L746.8,855.8 L747.7,855.6 L748.6,856.2 L749.5,854.7 L750.4,855.9 L751.3,853.6 L752.2,854.6 L753.1,856.1 L754.0,856.0 L754.9,855.9 L755.8,854.9 L756.7,855.9 L757.6,855.7 L758.5,856.1 L759.4,856.3 L760.3,855.6 L761.2,857.9 L762.1,855.7 L763.0,856.1 L763.9,855.9 L764.8,856.1 L765.7,855.1 L766.6,855.2 L767.5,855.9 L768.4,855.8 L769.3,856.3 L770.2,854.5 L771.1,854.4 L772.0,854.6 L772.9,855.1 L773.8,856.6 L774.7,854.0 L775.6,853.8 L776.5,856.2 L777.4,855.2 L778.3,856.8 L779.2,857.4 L780.1,855.5 L781.0,855.2 L781.9,856.0 L782.8,857.2 L783.7,856.2 L784.6,856.0 L785.5,855.3 L786.4,857.3 L787.3,854.7 L788.2,855.2 L789.1,856.0 L790.0,856.0 L790.9,855.2 L791.8,855.7 L792.7,854.9 L793.6,854.2 L794.5,856.6 L795.4,857.7 L796.3,855.8 L797.2,855.5 L798.1,856.6 L799.0,855.9 L799.9,855.3 L800.8,855.1 L801.7,853.5 L802.6,854.5 L803.5,854.1 L804.4,854.4 L805.3,853.4 L806.2,854.2 L807.1,854.3 L808.0,854.2 L808.9,855.3 L809.8,853.0 L810.7,853.9 L811.6,852.6 L812.5,852.4 L813.4,855.2 L814.3,855.4 L815.2,855.8 L816.1,853.8 L817.0,853.2 L817.9,854.6 L818.8,855.1 L819.7,856.1 L820.6,855.8 L821.5,855.8 L822.4,855.9 L823.3,855.4 L824.2,854.0 L825.1,855.4 L826.0,854.8 L826.9,854.8 L827.8,854.8 L828.7,855.5 L829.6,855.1 L830.5,853.9 L831.4,854.6 L832.3,855.8 L833.2,855.1 L834.1,856.4 L835.0,855.6 L835.9,855.7 L836.8,857.1 L837.7,857.2 L838.6,859.7 L839.5,856.8 L840.4,856.1 L841.3,856.4 L842.2,855.5 L843.1,854.5 L844.0,855.2 L844.9,855.0 L845.8,854.8 L846.7,854.5 L847.6,855.2 L848.5,855.1 L849.4,855.0 L850.3,854.4 L851.2,854.3 L852.1,853.5 L853.0,854.6 L853.9,854.6 L854.8,854.3 L855.7,854.7 L856.6,855.3" stroke="#FF0000" stroke-width="6"/>
<path d="M399.5,1338.0 C399.7,1335.0 400.2,1325.7 400.5,1320.0 C400.8,1314.3 401.1,1306.7 401.5,1304.0 C401.9,1301.3 402.4,1300.5 403.0,1304.0 C403.6,1307.5 404.3,1320.2 405.0,1325.0 C405.7,1329.8 406.3,1333.8 407.0,1333.0 C407.7,1332.2 408.3,1324.3 409.0,1320.0 C409.7,1315.7 410.3,1309.5 411.0,1307.0 C411.7,1304.5 411.8,1305.5 413.1,1305.0 C414.5,1304.5 417.1,1304.1 419.1,1304.0 C421.1,1303.9 423.0,1304.8 425.0,1304.5 C427.0,1304.2 429.4,1302.7 431.2,1302.5 C433.0,1302.3 434.5,1303.7 436.0,1303.5 C437.5,1303.3 438.5,1301.5 440.2,1301.5 C441.9,1301.5 444.0,1302.9 446.0,1303.5 C448.0,1304.1 450.2,1304.4 452.2,1305.0 C454.2,1305.6 456.8,1311.4 458.2,1307.0 C459.6,1302.6 459.9,1291.5 460.6,1278.7 C461.3,1265.9 461.9,1243.2 462.5,1230.0 C463.1,1216.8 463.7,1198.7 464.3,1199.5 C464.9,1200.3 465.4,1220.8 466.0,1235.0 C466.6,1249.2 467.2,1272.4 467.9,1284.7 C468.6,1297.0 468.9,1304.3 470.3,1308.8 C471.7,1313.3 473.8,1310.3 476.3,1311.8 C478.8,1313.3 482.3,1316.0 485.3,1317.8 C488.3,1319.5 492.4,1324.4 494.4,1322.3 C496.4,1320.2 496.6,1309.2 497.5,1305.0 C498.4,1300.8 499.3,1298.4 500.0,1297.0 C500.7,1295.6 501.1,1293.3 501.9,1296.8 C502.7,1300.3 504.0,1316.4 504.9,1317.8 C505.8,1319.2 506.2,1308.0 507.0,1305.0 C507.8,1302.0 508.5,1298.7 509.4,1299.8 C510.3,1300.9 511.5,1315.1 512.4,1311.8 C513.2,1308.5 513.9,1298.6 514.5,1280.0 C515.1,1261.4 515.5,1246.7 516.0,1200.0 C516.5,1153.3 517.2,1037.3 517.5,1000.0 C517.8,962.7 517.8,976.0 518.0,976.0 C518.2,976.0 518.7,971.0 519.0,1000.0 C519.3,1029.0 519.6,1108.3 520.0,1150.0 C520.4,1191.7 521.0,1226.5 521.5,1250.0 C522.0,1273.5 521.9,1280.9 522.9,1290.7 C523.9,1300.5 525.7,1302.8 527.5,1308.8 C529.3,1314.8 531.5,1323.1 533.5,1326.9 C535.5,1330.7 538.1,1333.4 539.5,1331.4 C540.9,1329.4 541.2,1320.3 542.0,1315.0 C542.8,1309.7 543.3,1303.3 544.0,1299.8 C544.7,1296.3 545.4,1291.3 546.1,1293.8 C546.9,1296.3 547.4,1308.7 548.5,1315.0 C549.6,1321.3 551.0,1328.4 553.0,1331.4 C555.0,1334.4 556.8,1332.6 560.6,1333.0 C564.4,1333.4 572.5,1336.2 575.6,1334.0 C578.7,1331.8 578.0,1325.7 579.0,1320.0 C580.0,1314.3 580.7,1303.5 581.6,1299.8 C582.5,1296.1 583.6,1295.5 584.6,1298.0 C585.6,1300.5 586.3,1311.5 587.6,1314.8 C588.9,1318.1 590.7,1314.8 592.2,1317.8 C593.7,1320.8 593.7,1330.0 596.7,1333.0 C599.7,1336.0 606.1,1335.5 610.0,1336.0 C613.9,1336.5 618.0,1337.3 620.0,1336.0 C622.0,1334.7 621.3,1330.2 622.0,1328.0 C622.7,1325.8 623.6,1322.0 624.4,1323.0 C625.2,1324.0 624.9,1331.8 627.0,1334.0 C629.1,1336.2 635.0,1336.8 637.0,1336.0 C639.0,1335.2 638.4,1330.9 639.0,1329.0 C639.6,1327.1 639.9,1323.6 640.6,1324.6 C641.3,1325.6 639.3,1333.1 643.0,1335.0 C646.7,1336.9 659.3,1338.8 663.0,1336.0 C666.7,1333.2 664.4,1322.6 665.0,1318.0 C665.6,1313.4 666.2,1308.0 666.9,1308.3 C667.6,1308.6 668.3,1315.4 669.0,1320.0 C669.7,1324.6 669.7,1333.3 671.0,1336.0 C672.3,1338.7 675.5,1337.3 677.0,1336.0 C678.5,1334.7 678.9,1328.0 679.9,1328.0 C680.9,1328.0 681.9,1335.8 683.0,1336.0 C684.1,1336.2 685.5,1329.0 686.7,1329.0 C687.9,1329.0 688.8,1335.0 690.0,1336.0 C691.2,1337.0 692.8,1336.5 694.0,1335.0 C695.2,1333.5 696.0,1327.1 697.0,1327.3 C698.0,1327.5 685.8,1334.5 700.0,1336.0 C714.2,1337.5 767.9,1337.3 782.0,1336.0 C796.1,1334.7 783.7,1330.1 784.5,1328.0 C785.3,1325.9 786.0,1322.9 786.8,1323.2 C787.5,1323.5 788.3,1327.9 789.0,1330.0 C789.7,1332.1 783.2,1335.0 791.0,1336.0 C798.8,1337.0 828.2,1337.8 836.0,1336.0 C843.8,1334.2 837.4,1328.0 838.0,1325.0 C838.6,1322.0 839.1,1317.8 839.6,1317.8 C840.1,1317.8 840.4,1322.0 841.0,1325.0 C841.6,1328.0 840.3,1334.2 843.0,1336.0 C845.7,1337.8 854.7,1336.0 857.0,1336.0" stroke="#B08080" stroke-width="5.5"/>
<path d="M124.0,1339.6 L124.9,1341.6 L125.8,1340.0 L126.7,1337.8 L127.6,1338.6 L128.5,1341.0 L129.4,1343.5 L130.3,1339.6 L131.2,1339.6 L132.1,1339.7 L133.0,1338.2 L133.9,1340.4 L134.8,1340.2 L135.7,1340.7 L136.6,1343.6 L137.5,1340.7 L138.4,1341.5 L139.3,1341.8 L140.2,1339.8 L141.1,1339.3 L142.0,1342.3 L142.9,1341.8 L143.8,1340.9 L144.7,1338.9 L145.6,1341.2 L146.5,1341.3 L147.4,1343.6 L148.3,1343.2 L149.2,1342.1 L150.1,1337.2 L151.0,1340.6 L151.9,1339.6 L152.8,1340.6 L153.7,1340.7 L154.6,1341.3 L155.5,1342.1 L156.4,1341.2 L157.3,1339.7 L158.2,1341.3 L159.1,1342.7 L160.0,1339.7 L160.9,1340.8 L161.8,1341.2 L162.7,1341.3 L163.6,1341.2 L164.5,1340.4 L165.4,1340.2 L166.3,1342.7 L167.2,1343.3 L168.1,1339.0 L169.0,1336.4 L169.9,1340.0 L170.8,1339.3 L171.7,1339.3 L172.6,1337.8 L173.5,1340.2 L174.4,1340.2 L175.3,1339.5 L176.2,1341.4 L177.1,1344.0 L178.0,1343.3 L178.9,1342.7 L179.8,1340.3 L180.7,1341.2 L181.6,1340.5 L182.5,1342.0 L183.4,1341.5 L184.3,1340.5 L185.2,1341.1 L186.1,1336.7 L187.0,1341.2 L187.9,1339.9 L188.8,1340.4 L189.7,1341.1 L190.6,1338.1 L191.5,1341.1 L192.4,1341.7 L193.3,1335.9 L194.2,1342.5 L195.1,1341.0 L196.0,1338.0 L196.9,1337.8 L197.8,1340.9 L198.7,1340.1 L199.6,1341.8 L200.5,1338.5 L201.4,1339.7 L202.3,1338.9 L203.2,1339.6 L204.1,1341.1 L205.0,1340.0 L205.9,1340.7 L206.8,1340.9 L207.7,1343.6 L208.6,1339.3 L209.5,1341.2 L210.4,1342.4 L211.3,1339.2 L212.2,1340.2 L213.1,1343.5 L214.0,1342.6 L214.9,1336.6 L215.8,1339.1 L216.7,1337.6 L217.6,1336.5 L218.5,1339.2 L219.4,1339.2 L220.3,1338.9 L221.2,1340.4 L222.1,1339.7 L223.0,1338.9 L223.9,1339.6 L224.8,1340.7 L225.7,1339.2 L226.6,1341.6 L227.5,1338.3 L228.4,1340.4 L229.3,1339.8 L230.2,1342.4 L231.1,1339.9 L232.0,1339.3 L232.9,1338.2 L233.8,1342.6 L234.7,1341.7 L235.6,1339.1 L236.5,1339.5 L237.4,1338.8 L238.3,1339.9 L239.2,1341.3 L240.1,1337.7 L241.0,1340.0 L241.9,1341.5 L242.8,1340.6 L243.7,1341.0 L244.6,1340.3 L245.5,1340.6 L246.4,1340.7 L247.3,1339.4 L248.2,1340.6 L249.1,1340.6 L250.0,1340.3 L250.9,1339.3 L251.8,1338.6 L252.7,1340.2 L253.6,1341.5 L254.5,1337.2 L255.4,1338.8 L256.3,1341.9 L257.2,1342.0 L258.1,1339.7 L259.0,1342.1 L259.9,1339.3 L260.8,1338.9 L261.7,1342.7 L262.6,1340.3 L263.5,1340.0 L264.4,1337.9 L265.3,1338.3 L266.2,1338.2 L267.1,1339.6 L268.0,1337.5 L268.9,1341.1 L269.8,1340.0 L270.7,1339.4 L271.6,1339.2 L272.5,1341.1 L273.4,1342.7 L274.3,1340.3 L275.2,1342.6 L276.1,1343.1 L277.0,1342.9 L277.9,1341.3 L278.8,1338.4 L279.7,1338.4 L280.6,1339.8 L281.5,1340.5 L282.4,1337.7 L283.3,1339.3 L284.2,1340.4 L285.1,1339.0 L286.0,1340.4 L286.9,1342.7 L287.8,1341.2 L288.7,1339.5 L289.6,1343.5 L290.5,1338.0 L291.4,1338.4 L292.3,1340.4 L293.2,1339.5 L294.1,1336.9 L295.0,1339.8 L295.9,1341.4 L296.8,1339.4 L297.7,1342.2 L298.6,1341.5 L299.5,1342.3 L300.4,1338.6 L301.3,1339.9 L302.2,1342.5 L303.1,1343.7 L304.0,1343.0 L304.9,1340.9 L305.8,1340.7 L306.7,1339.5 L307.6,1341.7 L308.5,1339.6 L309.4,1340.3 L310.3,1337.4 L311.2,1337.5 L312.1,1342.1 L313.0,1340.8 L313.9,1340.7 L314.8,1337.3 L315.7,1335.7 L316.6,1343.1 L317.5,1338.8 L318.4,1336.6 L319.3,1339.2 L320.2,1339.3 L321.1,1339.8 L322.0,1338.4 L322.9,1334.1 L323.8,1338.0 L324.7,1340.7 L325.6,1340.3 L326.5,1341.5 L327.4,1339.0 L328.3,1340.8 L329.2,1339.8 L330.1,1340.3 L331.0,1339.0 L331.9,1340.7 L332.8,1339.9 L333.7,1337.8 L334.6,1339.8 L335.5,1341.3 L336.4,1339.6 L337.3,1340.0 L338.2,1337.7 L339.1,1337.8 L340.0,1340.3 L340.9,1342.1 L341.8,1340.3 L342.7,1337.9 L343.6,1339.2 L344.5,1337.8 L345.4,1339.3 L346.3,1342.8 L347.2,1341.3 L348.1,1340.3 L349.0,1341.8 L349.9,1340.1 L350.8,1340.7 L351.7,1340.7 L352.6,1341.0 L353.5,1338.4 L354.4,1340.9 L355.3,1341.7 L356.2,1337.4 L357.1,1335.7 L358.0,1337.9 L358.9,1341.9 L359.8,1340.7 L360.7,1341.4 L361.6,1341.3 L362.5,1341.8 L363.4,1339.8 L364.3,1339.3 L365.2,1340.6 L366.1,1341.2 L367.0,1341.3 L367.9,1341.0 L368.8,1339.8 L369.7,1338.2 L370.6,1341.3 L371.5,1342.1 L372.4,1337.1 L373.3,1341.0 L374.2,1337.0 L375.1,1339.8 L376.0,1339.2 L376.9,1340.2 L377.8,1339.6 L378.7,1339.7 L379.6,1340.4 L380.5,1340.8 L381.4,1339.3 L382.3,1336.4 L383.2,1338.3 L384.1,1340.6 L385.0,1339.2 L385.9,1340.6 L386.8,1339.9 L387.7,1338.8 L388.6,1341.6 L389.5,1343.0 L390.4,1340.8 L391.3,1340.3 L392.2,1341.7 L393.1,1338.7 L394.0,1335.1 L394.9,1341.5 L395.8,1341.9 L396.7,1340.0 L397.6,1339.1 L398.5,1340.5 L399.4,1338.3 L400.3,1339.1 L401.2,1339.7 L402.1,1336.6 L403.0,1340.3 L403.9,1341.4 L404.8,1342.1 L405.7,1338.7 L406.6,1338.1 L407.5,1338.6 L408.4,1338.0 L409.3,1342.7 L410.2,1339.5 L411.1,1339.6 L412.0,1340.4 L412.9,1341.0 L413.8,1342.6 L414.7,1339.3 L415.6,1341.3 L416.5,1340.8 L417.4,1338.7 L418.3,1340.1 L419.2,1338.2 L420.1,1342.1 L421.0,1339.7 L421.9,1341.6 L422.8,1342.5 L423.7,1336.1 L424.6,1338.9 L425.5,1336.6 L426.4,1338.8 L427.3,1341.2 L428.2,1340.8 L429.1,1339.3 L430.0,1339.1 L430.9,1341.1 L431.8,1338.4 L432.7,1342.3 L433.6,1339.6 L434.5,1339.9 L435.4,1338.9 L436.3,1342.3 L437.2,1342.0 L438.1,1342.6 L439.0,1341.8 L439.9,1340.8 L440.8,1342.9 L441.7,1341.9 L442.6,1341.3 L443.5,1341.4 L444.4,1341.6 L445.3,1341.0 L446.2,1340.2 L447.1,1338.0 L448.0,1342.7 L448.9,1339.0 L449.8,1336.9 L450.7,1338.4 L451.6,1342.7 L452.5,1342.6 L453.4,1340.0 L454.3,1340.6 L455.2,1340.3 L456.1,1337.4 L457.0,1336.5 L457.9,1340.4 L458.8,1342.0 L459.7,1339.0 L460.6,1336.7 L461.5,1337.2 L462.4,1336.5 L463.3,1340.4 L464.2,1340.5 L465.1,1340.6 L466.0,1339.8 L466.9,1338.2 L467.8,1340.5 L468.7,1340.9 L469.6,1341.3 L470.5,1342.3 L471.4,1339.0 L472.3,1336.6 L473.2,1336.8 L474.1,1342.6 L475.0,1339.5 L475.9,1340.7 L476.8,1340.4 L477.7,1341.4 L478.6,1345.2 L479.5,1340.7 L480.4,1340.2 L481.3,1339.4 L482.2,1340.4 L483.1,1341.1 L484.0,1339.1 L484.9,1341.9 L485.8,1342.4 L486.7,1341.4 L487.6,1337.2 L488.5,1340.0 L489.4,1337.8 L490.3,1340.7 L491.2,1339.0 L492.1,1339.2 L493.0,1341.5 L493.9,1339.2 L494.8,1339.3 L495.7,1341.3 L496.6,1343.2 L497.5,1340.0 L498.4,1339.0 L499.3,1339.7 L500.2,1340.7 L501.1,1341.1 L502.0,1338.8 L502.9,1341.4 L503.8,1343.2 L504.7,1341.1 L505.6,1340.9 L506.5,1338.7 L507.4,1342.5 L508.3,1340.9 L509.2,1338.6 L510.1,1341.0 L511.0,1338.3 L511.9,1335.4 L512.8,1336.8 L513.7,1341.5 L514.6,1343.8 L515.5,1340.2 L516.4,1339.3 L517.3,1339.2 L518.2,1339.2 L519.1,1340.8 L520.0,1342.6 L520.9,1339.4 L521.8,1340.7 L522.7,1337.8 L523.6,1341.9 L524.5,1340.6 L525.4,1339.3 L526.3,1342.3 L527.2,1340.6 L528.1,1342.4 L529.0,1342.4 L529.9,1343.2 L530.8,1339.8 L531.7,1340.3 L532.6,1340.8 L533.5,1340.1 L534.4,1342.5 L535.3,1339.8 L536.2,1341.6 L537.1,1342.6 L538.0,1338.0 L538.9,1338.3 L539.8,1338.5 L540.7,1339.1 L541.6,1340.6 L542.5,1340.1 L543.4,1340.4 L544.3,1336.8 L545.2,1340.0 L546.1,1340.9 L547.0,1341.5 L547.9,1339.5 L548.8,1339.9 L549.7,1339.1 L550.6,1339.8 L551.5,1338.1 L552.4,1341.2 L553.3,1338.7 L554.2,1340.4 L555.1,1339.3 L556.0,1337.1 L556.9,1339.1 L557.8,1337.8 L558.7,1342.1 L559.6,1345.5 L560.5,1339.8 L561.4,1338.5 L562.3,1340.7 L563.2,1341.3 L564.1,1338.2 L565.0,1337.0 L565.9,1340.3 L566.8,1337.4 L567.7,1341.7 L568.6,1339.9 L569.5,1340.3 L570.4,1340.3 L571.3,1339.5 L572.2,1339.9 L573.1,1339.8 L574.0,1342.0 L574.9,1340.6 L575.8,1340.3 L576.7,1339.5 L577.6,1339.2 L578.5,1339.0 L579.4,1340.0 L580.3,1342.9 L581.2,1342.5 L582.1,1341.2 L583.0,1342.9 L583.9,1342.4 L584.8,1341.1 L585.7,1340.3 L586.6,1338.7 L587.5,1340.3 L588.4,1339.8 L589.3,1337.9 L590.2,1337.8 L591.1,1342.5 L592.0,1341.1 L592.9,1341.2 L593.8,1340.8 L594.7,1339.7 L595.6,1340.8 L596.5,1342.0 L597.4,1340.3 L598.3,1341.0 L599.2,1342.0 L600.1,1340.0 L601.0,1340.5 L601.9,1339.3 L602.8,1340.9 L603.7,1339.9 L604.6,1341.9 L605.5,1339.6 L606.4,1342.6 L607.3,1340.4 L608.2,1339.1 L609.1,1338.7 L610.0,1340.9 L610.9,1339.2 L611.8,1342.7 L612.7,1342.7 L613.6,1341.6 L614.5,1338.5 L615.4,1339.8 L616.3,1339.1 L617.2,1337.4 L618.1,1340.2 L619.0,1343.5 L619.9,1340.3 L620.8,1341.5 L621.7,1342.5 L622.6,1339.4 L623.5,1339.6 L624.4,1340.5 L625.3,1341.0 L626.2,1338.8 L627.1,1340.3 L628.0,1340.1 L628.9,1341.6 L629.8,1338.3 L630.7,1339.0 L631.6,1339.3 L632.5,1339.6 L633.4,1341.2 L634.3,1339.6 L635.2,1344.1 L636.1,1340.2 L637.0,1341.5 L637.9,1342.1 L638.8,1342.1 L639.7,1340.4 L640.6,1339.1 L641.5,1339.6 L642.4,1341.1 L643.3,1340.7 L644.2,1341.2 L645.1,1341.4 L646.0,1339.3 L646.9,1338.7 L647.8,1342.0 L648.7,1340.0 L649.6,1337.9 L650.5,1342.4 L651.4,1339.6 L652.3,1338.8 L653.2,1341.3 L654.1,1338.9 L655.0,1338.7 L655.9,1341.4 L656.8,1339.4 L657.7,1343.7 L658.6,1341.3 L659.5,1344.4 L660.4,1341.5 L661.3,1340.7 L662.2,1339.5 L663.1,1339.8 L664.0,1336.6 L664.9,1340.1 L665.8,1337.6 L666.7,1338.7 L667.6,1334.7 L668.5,1336.8 L669.4,1341.7 L670.3,1338.3 L671.2,1340.3 L672.1,1340.2 L673.0,1341.7 L673.9,1341.1 L674.8,1341.7 L675.7,1340.4 L676.6,1340.1 L677.5,1340.2 L678.4,1337.6 L679.3,1341.2 L680.2,1338.2 L681.1,1334.9 L682.0,1340.8 L682.9,1340.5 L683.8,1341.5 L684.7,1343.1 L685.6,1343.7 L686.5,1343.1 L687.4,1340.6 L688.3,1343.4 L689.2,1339.8 L690.1,1340.0 L691.0,1341.7 L691.9,1340.3 L692.8,1340.1 L693.7,1339.7 L694.6,1342.2 L695.5,1337.2 L696.4,1341.4 L697.3,1342.1 L698.2,1340.6 L699.1,1341.2 L700.0,1339.1 L700.9,1341.6 L701.8,1345.1 L702.7,1340.1 L703.6,1342.3 L704.5,1340.7 L705.4,1339.9 L706.3,1339.5 L707.2,1339.8 L708.1,1338.4 L709.0,1337.9 L709.9,1342.1 L710.8,1340.7 L711.7,1341.2 L712.6,1341.0 L713.5,1341.2 L714.4,1338.3 L715.3,1338.4 L716.2,1340.8 L717.1,1341.9 L718.0,1339.0 L718.9,1339.1 L719.8,1338.5 L720.7,1340.8 L721.6,1340.9 L722.5,1340.5 L723.4,1339.4 L724.3,1340.6 L725.2,1340.4 L726.1,1339.2 L727.0,1340.5 L727.9,1339.4 L728.8,1338.5 L729.7,1341.5 L730.6,1339.6 L731.5,1341.0 L732.4,1340.6 L733.3,1339.3 L734.2,1338.7 L735.1,1337.5 L736.0,1338.0 L736.9,1340.2 L737.8,1342.0 L738.7,1339.8 L739.6,1340.4 L740.5,1340.8 L741.4,1341.6 L742.3,1341.2 L743.2,1342.3 L744.1,1341.9 L745.0,1337.4 L745.9,1340.7 L746.8,1337.0 L747.7,1339.2 L748.6,1340.1 L749.5,1341.1 L750.4,1340.0 L751.3,1341.5 L752.2,1342.5 L753.1,1336.8 L754.0,1339.3 L754.9,1340.4 L755.8,1341.1 L756.7,1340.7 L757.6,1341.6 L758.5,1338.9 L759.4,1341.1 L760.3,1342.2 L761.2,1342.4 L762.1,1341.4 L763.0,1340.2 L763.9,1340.9 L764.8,1340.3 L765.7,1338.0 L766.6,1338.9 L767.5,1339.9 L768.4,1339.5 L769.3,1338.7 L770.2,1339.6 L771.1,1339.6 L772.0,1340.2 L772.9,1340.2 L773.8,1340.5 L774.7,1341.8 L775.6,1340.9 L776.5,1341.0 L777.4,1338.7 L778.3,1335.6 L779.2,1338.6 L780.1,1340.9 L781.0,1339.9 L781.9,1339.3 L782.8,1338.3 L783.7,1341.1 L784.6,1339.7 L785.5,1340.5 L786.4,1339.1 L787.3,1341.5 L788.2,1343.9 L789.1,1341.0 L790.0,1341.9 L790.9,1341.7 L791.8,1339.7 L792.7,1340.2 L793.6,1339.5 L794.5,1338.6 L795.4,1337.7 L796.3,1339.2 L797.2,1342.5 L798.1,1339.7 L799.0,1336.1 L799.9,1340.2 L800.8,1339.5 L801.7,1340.2 L802.6,1339.4 L803.5,1338.0 L804.4,1336.2 L805.3,1337.4 L806.2,1341.8 L807.1,1341.3 L808.0,1340.8 L808.9,1339.7 L809.8,1340.0 L810.7,1340.7 L811.6,1338.4 L812.5,1338.7 L813.4,1338.6 L814.3,1341.7 L815.2,1339.1 L816.1,1341.7 L817.0,1340.0 L817.9,1344.2 L818.8,1338.6 L819.7,1340.5 L820.6,1342.3 L821.5,1342.1 L822.4,1342.1 L823.3,1339.2 L824.2,1341.7 L825.1,1343.1 L826.0,1340.8 L826.9,1339.7 L827.8,1338.6 L828.7,1341.4 L829.6,1341.0 L830.5,1340.5 L831.4,1338.5 L832.3,1342.2 L833.2,1342.0 L834.1,1340.7 L835.0,1342.5 L835.9,1339.5 L836.8,1341.4 L837.7,1339.1 L838.6,1342.1 L839.5,1340.3 L840.4,1342.1 L841.3,1336.4 L842.2,1340.8 L843.1,1342.1 L844.0,1339.4 L844.9,1340.2 L845.8,1339.1 L846.7,1341.2 L847.6,1339.6 L848.5,1339.6 L849.4,1339.8 L850.3,1341.9 L851.2,1339.2 L852.1,1340.0 L853.0,1339.7 L853.9,1339.4 L854.8,1338.9 L855.7,1339.7 L856.6,1340.5" stroke="#FF9146" stroke-width="9.5"/>
</g>
<rect x="133.5" y="766" width="333" height="45.5" fill="#fff" stroke="#999" stroke-width="1.2"/>
<path d="M139,787.8H213" stroke="#000" stroke-width="5.5" stroke-linecap="round"/>
<text x="222" y="800" style="font-family:'Liberation Serif',serif;font-kerning:none;font-size:34px">Cell Heating Rate</text>
<text x="284" y="1284" text-anchor="middle" style="font-family:'Liberation Serif',serif;font-kerning:none;font-size:23.7px">Combined gas warning</text>
<text x="289.5" y="1307.3" text-anchor="middle" style="font-family:'Liberation Serif',serif;font-kerning:none;font-size:23.7px">current shut off</text>
<path d="M368.5,1302.5H386" stroke="#000" stroke-width="1.2"/>
<path d="M398,1303L383.5,1299.6L385.5,1302.8L383.5,1306Z" fill="#000"/>
<text x="111.3" y="1361.8" text-anchor="end" style="font-family:'Liberation Serif',serif;font-kerning:none;font-weight:bold;font-size:34px">0</text>
<text x="111.3" y="1243.4" text-anchor="end" style="font-family:'Liberation Serif',serif;font-kerning:none;font-weight:bold;font-size:34px">2</text>
<text x="111.3" y="1125.0" text-anchor="end" style="font-family:'Liberation Serif',serif;font-kerning:none;font-weight:bold;font-size:34px">4</text>
<text x="111.3" y="1006.6" text-anchor="end" style="font-family:'Liberation Serif',serif;font-kerning:none;font-weight:bold;font-size:34px">6</text>
<text x="111.3" y="888.2" text-anchor="end" style="font-family:'Liberation Serif',serif;font-kerning:none;font-weight:bold;font-size:34px">8</text>
<text x="111.3" y="769.8" text-anchor="end" style="font-family:'Liberation Serif',serif;font-kerning:none;font-weight:bold;font-size:34px">10</text>
<text x="123.0" y="1390.7" text-anchor="middle" style="font-family:'Liberation Serif',serif;font-kerning:none;font-weight:bold;font-size:34px">0</text>
<text x="228.0" y="1390.7" text-anchor="middle" style="font-family:'Liberation Serif',serif;font-kerning:none;font-weight:bold;font-size:34px">3</text>
<text x="333.0" y="1390.7" text-anchor="middle" style="font-family:'Liberation Serif',serif;font-kerning:none;font-weight:bold;font-size:34px">6</text>
<text x="438.0" y="1390.7" text-anchor="middle" style="font-family:'Liberation Serif',serif;font-kerning:none;font-weight:bold;font-size:34px">9</text>
<text x="543.0" y="1390.7" text-anchor="middle" style="font-family:'Liberation Serif',serif;font-kerning:none;font-weight:bold;font-size:34px">12</text>
<text x="648.0" y="1390.7" text-anchor="middle" style="font-family:'Liberation Serif',serif;font-kerning:none;font-weight:bold;font-size:34px">15</text>
<text x="753.0" y="1390.7" text-anchor="middle" style="font-family:'Liberation Serif',serif;font-kerning:none;font-weight:bold;font-size:34px">18</text>
<text x="858.0" y="1390.7" text-anchor="middle" style="font-family:'Liberation Serif',serif;font-kerning:none;font-weight:bold;font-size:34px">21</text>
<text x="490" y="1460" text-anchor="middle" style="font-family:'Liberation Serif',serif;font-kerning:none;font-size:50px">Time, min</text>
<text transform="translate(37.5,1035.5) rotate(-90)" text-anchor="middle" style="font-family:'Liberation Serif',serif;font-kerning:none;font-size:50px">Heating Rate, °C/min</text>
<text x="828" y="809.5" text-anchor="middle" style="font-family:'Liberation Serif',serif;font-kerning:none;font-size:50px">(b)</text>
<text transform="translate(932,1318) rotate(-90)" style="font-family:'Liberation Serif',serif;font-kerning:none;font-size:49.5px"><tspan fill="#FF0000">VOC</tspan><tspan fill="#000"> | </tspan><tspan fill="#B07575">Combined Gas</tspan><tspan fill="#000"> | </tspan><tspan fill="#FF8C3C">H</tspan><tspan fill="#FF8C3C" font-size="36" dy="12.5">2</tspan></text>
<text transform="translate(985,1245.5) rotate(-90)" style="font-family:'Liberation Serif',serif;font-kerning:none;font-size:49.7px" fill="#808080">Gas Detector (a.u.)</text>
</svg>
</body></html>
